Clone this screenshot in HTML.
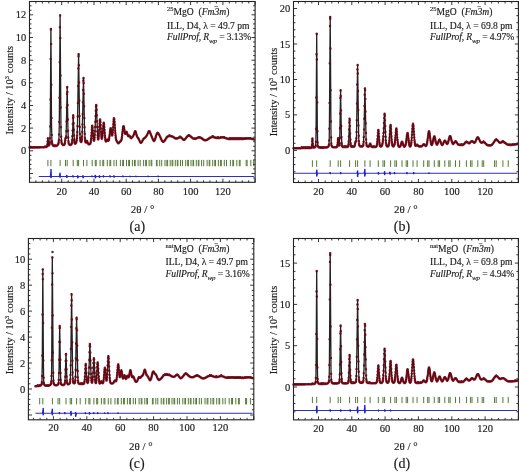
<!DOCTYPE html>
<html><head><meta charset="utf-8"><style>
html,body{margin:0;padding:0;background:#fff;}
svg{display:block;filter:blur(0.3px);}
text{font-family:"Liberation Serif",serif;fill:#1a1a1a;white-space:pre;stroke:#1a1a1a;stroke-width:0.15px;}
.t{font-size:10.5px;}
.a{font-size:9.6px;}
.cap{font-size:14px;}
.xl{font-size:11px;}
.sup{font-size:6.5px;}
.sub{font-size:7px;}
.a3{letter-spacing:-0.12px;}
.i{font-style:italic;}

</style></head><body>
<svg width="520" height="472" viewBox="0 0 520 472">
<rect width="520" height="472" fill="#fff"/>
<path d="M29.5 147.6L43.2 147.2L45.6 147L46.7 146.7L47.1 146.3L47.3 145.3L47.9 138L48.6 145.2L48.8 145.5L49.1 145.3L49.7 143.7L50 138.8L50.3 125.7L50.9 28.7L51.5 121L51.9 141.6L52.5 144.8L53.1 145.6L53.9 146L55.6 146L57.1 145.5L58 144.6L58.5 143.1L59 137.9L59.3 123.4L60.1 15L61 132.1L61.5 141.8L61.9 143.7L62.8 144.8L63.9 145L64.5 144.4L65.5 138.3L65.6 137.9L66 138.1L66.1 136.8L67.2 87L68 132.4L68.6 142.9L69.1 144.3L70.2 144.9L71.4 144.5L71.9 143.1L72.4 137.5L73.2 115.3L74.4 141.8L74.8 143.4L75.4 143.7L76 143L76.5 141.3L77.1 134.9L77.5 124L78.6 53.9L79.7 130.1L80.2 139.3L80.5 141.2L80.9 142L81.4 141.7L81.8 140.3L82.2 133.5L83.5 77.9L84.5 126.9L85 139L85.6 142.3L85.9 142.4L86.6 141.1L86.9 141L88 143.5L88.6 144.2L89.4 144.2L90 143.9L90.7 142.1L92.2 125.6L92.5 127.3L93.5 139.2L93.9 140.7L94.3 139.9L94.9 133L95.9 108.8L96.2 104.9L96.6 108.9L97.5 133L98 139.1L98.2 139.4L98.4 139.2L98.7 136.9L99.7 121.9L100.1 119.5L101.7 138.4L101.8 138.7L102 138.6L102.3 136.9L103.4 124.6L103.7 122.7L104.1 125L105.2 138.4L105.5 140.7L105.9 141.5L107.2 139.7L107.5 139.8L108.3 140.8L108.8 140.3L110.6 128.4L111 129.2L111.9 135L112.1 135.5L112.3 135.3L112.8 131.8L113.7 120L114 118.1L114.4 120.4L115.9 138.3L116.9 141.5L117.6 142.8L118.3 143.2L118.9 143L120.9 141L121.4 140.1L121.9 137L123 127.8L123.5 126.1L123.9 127.1L125.1 133.7L125.5 133.7L126.2 132.2L126.6 132L128.1 136.1L128.4 136.3L129.2 135.9L129.5 136L131 138.1L131.4 138L133.3 135.8L134.8 131.8L135.1 131.3L135.4 131.3L137.2 136.8L138.5 138.8L140.1 142.1L140.9 142.8L141.8 142.2L143.7 138.8L145.3 137.5L146.4 136.1L148.5 131.8L149.1 131.2L149.9 132.1L152.6 138.9L153.7 140.9L154.2 140.9L154.7 140.3L156.7 134.2L157.1 133.3L157.6 133.1L158.2 133.5L159 134.7L161.9 140.8L162.5 141.5L163.1 141.8L163.7 141.6L164.3 141.1L167.1 137.1L168.4 136.2L170.3 136.1L172 136.4L175.2 138.3L176.3 138.6L177.5 138.4L179.6 137.2L180.4 137.1L181.2 137.6L183 139.4L184 139.8L185.2 139.1L187.7 136L188.8 135.5L189.8 135.8L192.4 138L193.8 138.7L195.4 138.8L198.3 137.5L199.5 137.3L200.9 137.8L203.8 139.9L205.2 140.3L206.7 140L210.5 137.6L212.5 137L217.7 138.1L221.8 137.4L223.3 137.4L227.6 138.7L229.3 139L242 138.9L248.8 138.4L251.1 138.7L254 139.4" stroke="#222" stroke-width="1.3" fill="none" stroke-linejoin="round"/>
<path d="M29.5 147.6h0M29.7 147.6h0M29.9 147.6h0M30.1 147.5h0M30.3 147.5h0M30.5 147.5h0M30.7 147.5h0M30.9 147.5h0M31.1 147.5h0M31.3 147.5h0M31.5 147.5h0M31.7 147.5h0M31.9 147.5h0M32.1 147.5h0M32.3 147.5h0M32.5 147.5h0M32.7 147.5h0M32.9 147.5h0M33.1 147.5h0M33.3 147.5h0M33.5 147.5h0M33.7 147.5h0M33.9 147.5h0M34.1 147.5h0M34.3 147.5h0M34.5 147.5h0M34.7 147.5h0M34.9 147.5h0M35.1 147.5h0M35.3 147.5h0M35.5 147.4h0M35.7 147.4h0M35.9 147.4h0M36.1 147.4h0M36.4 147.4h0M36.6 147.4h0M36.8 147.4h0M37 147.4h0M37.2 147.4h0M37.4 147.4h0M37.6 147.4h0M37.8 147.4h0M38 147.4h0M38.2 147.4h0M38.4 147.4h0M38.6 147.4h0M38.8 147.4h0M39 147.4h0M39.2 147.4h0M39.4 147.4h0M39.6 147.4h0M39.8 147.4h0M40 147.3h0M40.2 147.3h0M40.4 147.3h0M40.6 147.3h0M40.8 147.3h0M41 147.3h0M41.2 147.3h0M41.4 147.3h0M41.6 147.3h0M41.8 147.3h0M42 147.3h0M42.2 147.3h0M42.4 147.3h0M42.6 147.3h0M42.8 147.3h0M43 147.2h0M43.2 147.2h0M43.4 147.2h0M43.6 147.2h0M43.8 147.2h0M44 147.2h0M44.2 147.2h0M44.4 147.2h0M44.6 147.1h0M44.8 147.1h0M45 147.1h0M45.2 147.1h0M45.4 147.1h0M45.6 147h0M45.8 147h0M46 147h0M46.2 146.9h0M46.4 146.8h0M46.6 146.8h0M46.8 146.7h0M47 146.4h0M47.2 145.9h0M47.4 144.4h0M47.6 141.5h0M47.8 138.5h0M48 138.5h0M48.2 141.3h0M48.4 144h0M48.6 145.2h0M48.8 145.5h0M49 145.4h0M49.2 145.1h0M49.4 144.6h0M49.7 143.9h0M49.9 142.4h0M50.1 138.3h0M50.3 126.5h0M50.5 99.5h0M50.7 58.9h0M50.9 29.6h0M51.1 44.1h0M51.3 84.7h0M51.5 118.1h0M51.7 135h0M51.9 141.2h0M52.1 143.3h0M52.3 144.2h0M52.5 144.8h0M52.7 145.2h0M52.9 145.4h0M53.1 145.6h0M53.3 145.8h0M53.5 145.9h0M53.7 146h0M53.9 146h0M54.1 146.1h0M54.3 146.1h0M54.5 146.1h0M54.7 146.1h0M54.9 146.1h0M55.1 146.1h0M55.3 146.1h0M55.5 146.1h0M55.7 146h0M55.9 146h0M56.1 145.9h0M56.3 145.9h0M56.5 145.8h0M56.7 145.7h0M56.9 145.6h0M57.1 145.5h0M57.3 145.4h0M57.5 145.2h0M57.7 145h0M57.9 144.7h0M58.1 144.3h0M58.3 143.9h0M58.5 143.2h0M58.7 142.1h0M58.9 139.9h0M59.1 134.5h0M59.3 122h0M59.5 97.8h0M59.7 62.3h0M59.9 27.2h0M60.1 15.6h0M60.3 38.1h0M60.5 75.5h0M60.7 107.6h0M60.9 127.3h0M61.1 136.7h0M61.3 140.6h0M61.5 142.3h0M61.7 143.2h0M61.9 143.7h0M62.1 144.1h0M62.3 144.4h0M62.5 144.6h0M62.7 144.8h0M62.9 144.9h0M63.2 145h0M63.4 145h0M63.6 145h0M63.8 145h0M64 145h0M64.2 144.9h0M64.4 144.7h0M64.6 144.3h0M64.8 143.5h0M65 142.2h0M65.2 140.5h0M65.4 138.8h0M65.6 137.9h0M65.8 138h0M66 138.1h0M66.2 136.4h0M66.4 131.2h0M66.6 121.4h0M66.8 107.7h0M67 93.9h0M67.2 87h0M67.4 91.9h0M67.6 105.1h0M67.8 119.4h0M68 130.7h0M68.2 137.6h0M68.4 141.3h0M68.6 143h0M68.8 143.7h0M69 144.2h0M69.2 144.4h0M69.4 144.6h0M69.6 144.7h0M69.8 144.8h0M70 144.8h0M70.2 144.9h0M70.4 144.9h0M70.6 144.9h0M70.8 144.8h0M71 144.7h0M71.2 144.6h0M71.4 144.5h0M71.6 144.1h0M71.8 143.5h0M72 142.3h0M72.2 140.1h0M72.4 136.2h0M72.6 130.6h0M72.8 124h0M73 118h0M73.2 115.3h0M73.4 117.5h0M73.6 123.2h0M73.8 129.8h0M74 135.5h0M74.2 139.4h0M74.4 141.7h0M74.6 142.9h0M74.8 143.5h0M75 143.7h0M75.2 143.7h0M75.4 143.7h0M75.6 143.6h0M75.8 143.3h0M76 143h0M76.2 142.4h0M76.4 141.5h0M76.7 140.2h0M76.9 138.3h0M77.1 135.7h0M77.3 131.9h0M77.5 125.9h0M77.7 116.5h0M77.9 103h0M78.1 86h0M78.3 68.6h0M78.5 56.3h0M78.7 54.8h0M78.9 65.2h0M79.1 82.4h0M79.3 100.6h0M79.5 116h0M79.7 127.1h0M79.9 134.1h0M80.1 138.1h0M80.3 140.1h0M80.5 141.2h0M80.7 141.7h0M80.9 141.9h0M81.1 142h0M81.3 141.9h0M81.5 141.5h0M81.7 140.8h0M81.9 139.3h0M82.1 136.5h0M82.3 131.7h0M82.5 124.4h0M82.7 114.3h0M82.9 102.2h0M83.1 90h0M83.3 80.7h0M83.5 78h0M83.7 83.1h0M83.9 93.7h0M84.1 106.2h0M84.3 117.9h0M84.5 127.2h0M84.7 133.8h0M84.9 137.9h0M85.1 140.3h0M85.3 141.6h0M85.5 142.2h0M85.7 142.4h0M85.9 142.4h0M86.1 142.1h0M86.3 141.7h0M86.5 141.3h0M86.7 141h0M86.9 141h0M87.1 141.3h0M87.3 141.8h0M87.5 142.4h0M87.7 143h0M87.9 143.5h0M88.1 143.8h0M88.3 144h0M88.5 144.2h0M88.7 144.2h0M88.9 144.3h0M89.1 144.3h0M89.3 144.2h0M89.5 144.2h0M89.7 144.1h0M90 144h0M90.2 143.7h0M90.4 143.4h0M90.6 142.8h0M90.8 141.9h0M91 140.4h0M91.2 138.4h0M91.4 135.8h0M91.6 132.8h0M91.8 129.7h0M92 127.2h0M92.2 125.7h0M92.4 126h0M92.6 127.7h0M92.8 130.4h0M93 133.4h0M93.2 136.1h0M93.4 138.2h0M93.6 139.7h0M93.8 140.6h0M94 140.7h0M94.2 140.3h0M94.4 139.2h0M94.6 137.5h0M94.8 134.8h0M95 131.3h0M95.2 126.9h0M95.4 121.7h0M95.6 116.1h0M95.8 110.8h0M96 106.7h0M96.2 104.9h0M96.4 106h0M96.6 109.8h0M96.8 115.3h0M97 121.3h0M97.2 126.9h0M97.4 131.6h0M97.6 135.2h0M97.8 137.6h0M98 139h0M98.2 139.4h0M98.4 139.1h0M98.6 137.9h0M98.8 136h0M99 133.4h0M99.2 130.3h0M99.4 126.8h0M99.6 123.5h0M99.8 120.8h0M100 119.6h0M100.2 120h0M100.4 122h0M100.6 125.1h0M100.8 128.6h0M101 131.9h0M101.2 134.7h0M101.4 136.9h0M101.6 138.2h0M101.8 138.7h0M102 138.5h0M102.2 137.6h0M102.4 136h0M102.6 133.8h0M102.8 131.2h0M103 128.5h0M103.2 125.9h0M103.5 123.8h0M103.7 122.7h0M103.9 123h0M104.1 124.5h0M104.3 126.9h0M104.5 129.8h0M104.7 132.7h0M104.9 135.4h0M105.1 137.6h0M105.3 139.3h0M105.5 140.5h0M105.7 141.2h0M105.9 141.5h0M106.1 141.5h0M106.3 141.3h0M106.5 140.9h0M106.7 140.5h0M106.9 140.1h0M107.1 139.8h0M107.3 139.7h0M107.5 139.7h0M107.7 140h0M107.9 140.3h0M108.1 140.6h0M108.3 140.8h0M108.5 140.8h0M108.7 140.5h0M108.9 139.9h0M109.1 139h0M109.3 137.8h0M109.5 136.3h0M109.7 134.5h0M109.9 132.7h0M110.1 131h0M110.3 129.5h0M110.5 128.6h0M110.7 128.3h0M110.9 128.8h0M111.1 129.9h0M111.3 131.4h0M111.5 132.9h0M111.7 134.3h0M111.9 135.2h0M112.1 135.5h0M112.3 135.2h0M112.5 134.1h0M112.7 132.4h0M112.9 130h0M113.1 127.2h0M113.3 124.3h0M113.5 121.6h0M113.7 119.4h0M113.9 118.3h0M114.1 118.4h0M114.3 119.7h0M114.5 121.9h0M114.7 124.8h0M114.9 127.8h0M115.1 130.7h0M115.3 133.3h0M115.5 135.5h0M115.7 137.3h0M115.9 138.6h0M116.1 139.5h0M116.3 140.2h0M116.5 140.8h0M116.7 141.2h0M117 141.7h0M117.2 142h0M117.4 142.4h0M117.6 142.7h0M117.8 142.9h0M118 143.1h0M118.2 143.2h0M118.4 143.3h0M118.6 143.2h0M118.8 143.1h0M119 143h0M119.2 142.8h0M119.4 142.5h0M119.6 142.3h0M119.8 142h0M120 141.8h0M120.2 141.6h0M120.4 141.4h0M120.6 141.3h0M120.8 141.1h0M121 140.9h0M121.2 140.6h0M121.4 140h0M121.6 139.2h0M121.8 138.1h0M122 136.7h0M122.2 135h0M122.4 133.1h0M122.6 131.2h0M122.8 129.4h0M123 127.9h0M123.2 126.8h0M123.4 126.2h0M123.6 126.2h0M123.8 126.7h0M124 127.7h0M124.2 129h0M124.4 130.3h0M124.6 131.6h0M124.8 132.7h0M125 133.4h0M125.2 133.8h0M125.4 133.8h0M125.6 133.5h0M125.8 133h0M126 132.6h0M126.2 132.2h0M126.4 131.9h0M126.6 132h0M126.8 132.3h0M127 132.8h0M127.2 133.5h0M127.4 134.2h0M127.6 134.9h0M127.8 135.5h0M128 136h0M128.2 136.2h0M128.4 136.3h0M128.6 136.2h0M128.8 136.1h0M129 136h0M129.2 135.9h0M129.4 135.9h0M129.6 136.1h0M129.8 136.4h0M130 136.8h0M130.2 137.2h0M130.5 137.5h0M130.7 137.9h0M130.9 138.1h0M131.1 138.2h0M131.3 138.1h0M131.5 138h0M131.7 137.7h0M131.9 137.5h0M132.1 137.2h0M132.3 136.9h0M132.5 136.7h0M132.7 136.5h0M132.9 136.4h0M133.1 136.2h0M133.3 135.9h0M133.5 135.6h0M133.7 135.1h0M133.9 134.6h0M134.1 133.9h0M134.3 133.3h0M134.5 132.6h0M134.7 132h0M134.9 131.5h0M135.1 131.3h0M135.3 131.3h0M135.5 131.5h0M135.7 132h0M135.9 132.6h0M136.1 133.3h0M136.3 134.1h0M136.5 134.9h0M136.7 135.6h0M136.9 136.2h0M137.1 136.7h0M137.3 137.1h0M137.5 137.4h0M137.7 137.7h0M137.9 137.9h0M138.1 138.1h0M138.3 138.4h0M138.5 138.8h0M138.7 139.2h0M138.9 139.6h0M139.1 140.1h0M139.3 140.5h0M139.5 141h0M139.7 141.4h0M139.9 141.8h0M140.1 142.2h0M140.3 142.4h0M140.5 142.6h0M140.7 142.8h0M140.9 142.8h0M141.1 142.8h0M141.3 142.7h0M141.5 142.5h0M141.7 142.3h0M141.9 142h0M142.1 141.6h0M142.3 141.2h0M142.5 140.8h0M142.7 140.4h0M142.9 140h0M143.1 139.6h0M143.3 139.3h0M143.5 139h0M143.8 138.7h0M144 138.5h0M144.2 138.4h0M144.4 138.2h0M144.6 138.1h0M144.8 137.9h0M145 137.8h0M145.2 137.6h0M145.4 137.4h0M145.6 137.2h0M145.8 137h0M146 136.7h0M146.2 136.5h0M146.4 136.2h0M146.6 135.9h0M146.8 135.6h0M147 135.3h0M147.2 134.9h0M147.4 134.5h0M147.6 134h0M147.8 133.5h0M148 133h0M148.2 132.5h0M148.4 132.1h0M148.6 131.7h0M148.8 131.4h0M149 131.3h0M149.2 131.2h0M149.4 131.3h0M149.6 131.5h0M149.8 131.9h0M150 132.3h0M150.2 132.8h0M150.4 133.4h0M150.6 133.9h0M150.8 134.5h0M151 135h0M151.2 135.6h0M151.4 136.1h0M151.6 136.6h0M151.8 137.1h0M152 137.6h0M152.2 138.1h0M152.4 138.6h0M152.6 139h0M152.8 139.5h0M153 139.9h0M153.2 140.3h0M153.4 140.6h0M153.6 140.8h0M153.8 140.9h0M154 141h0M154.2 140.9h0M154.4 140.7h0M154.6 140.4h0M154.8 140h0M155 139.5h0M155.2 138.9h0M155.4 138.2h0M155.6 137.5h0M155.8 136.8h0M156 136.1h0M156.2 135.4h0M156.4 134.8h0M156.6 134.2h0M156.8 133.8h0M157 133.4h0M157.3 133.2h0M157.5 133.1h0M157.7 133.1h0M157.9 133.1h0M158.1 133.3h0M158.3 133.5h0M158.5 133.8h0M158.7 134.1h0M158.9 134.4h0M159.1 134.8h0M159.3 135.1h0M159.5 135.5h0M159.7 135.9h0M159.9 136.4h0M160.1 136.8h0M160.3 137.2h0M160.5 137.7h0M160.7 138.2h0M160.9 138.7h0M161.1 139.1h0M161.3 139.6h0M161.5 140h0M161.7 140.4h0M161.9 140.7h0M162.1 141h0M162.3 141.3h0M162.5 141.5h0M162.7 141.6h0M162.9 141.7h0M163.1 141.8h0M163.3 141.8h0M163.5 141.7h0M163.7 141.6h0M163.9 141.5h0M164.1 141.3h0M164.3 141.2h0M164.5 140.9h0M164.7 140.7h0M164.9 140.4h0M165.1 140.1h0M165.3 139.8h0M165.5 139.5h0M165.7 139.2h0M165.9 138.8h0M166.1 138.5h0M166.3 138.2h0M166.5 137.9h0M166.7 137.6h0M166.9 137.3h0M167.1 137.1h0M167.3 136.8h0M167.5 136.7h0M167.7 136.5h0M167.9 136.4h0M168.1 136.3h0M168.3 136.2h0M168.5 136.2h0M168.7 136.1h0M168.9 136.1h0M169.1 136.1h0M169.3 136.1h0M169.5 136.1h0M169.7 136.1h0M169.9 136.1h0M170.1 136.1h0M170.3 136.1h0M170.6 136.2h0M170.8 136.2h0M171 136.2h0M171.2 136.2h0M171.4 136.3h0M171.6 136.3h0M171.8 136.3h0M172 136.4h0M172.2 136.5h0M172.4 136.5h0M172.6 136.6h0M172.8 136.7h0M173 136.8h0M173.2 137h0M173.4 137.1h0M173.6 137.2h0M173.8 137.4h0M174 137.5h0M174.2 137.6h0M174.4 137.8h0M174.6 137.9h0M174.8 138h0M175 138.2h0M175.2 138.3h0M175.4 138.4h0M175.6 138.4h0M175.8 138.5h0M176 138.6h0M176.2 138.6h0M176.4 138.6h0M176.6 138.6h0M176.8 138.6h0M177 138.6h0M177.2 138.5h0M177.4 138.4h0M177.6 138.3h0M177.8 138.2h0M178 138.1h0M178.2 138h0M178.4 137.9h0M178.6 137.7h0M178.8 137.6h0M179 137.5h0M179.2 137.4h0M179.4 137.3h0M179.6 137.2h0M179.8 137.1h0M180 137.1h0M180.2 137.1h0M180.4 137.1h0M180.6 137.2h0M180.8 137.3h0M181 137.4h0M181.2 137.6h0M181.4 137.8h0M181.6 138h0M181.8 138.2h0M182 138.4h0M182.2 138.7h0M182.4 138.9h0M182.6 139.1h0M182.8 139.3h0M183 139.4h0M183.2 139.6h0M183.4 139.7h0M183.6 139.7h0M183.8 139.8h0M184.1 139.8h0M184.3 139.7h0M184.5 139.6h0M184.7 139.5h0M184.9 139.4h0M185.1 139.2h0M185.3 139h0M185.5 138.8h0M185.7 138.5h0M185.9 138.3h0M186.1 138h0M186.3 137.7h0M186.5 137.5h0M186.7 137.2h0M186.9 136.9h0M187.1 136.7h0M187.3 136.4h0M187.5 136.2h0M187.7 136h0M187.9 135.8h0M188.1 135.7h0M188.3 135.6h0M188.5 135.5h0M188.7 135.5h0M188.9 135.5h0M189.1 135.5h0M189.3 135.6h0M189.5 135.7h0M189.7 135.8h0M189.9 135.9h0M190.1 136h0M190.3 136.2h0M190.5 136.4h0M190.7 136.5h0M190.9 136.7h0M191.1 136.9h0M191.3 137.1h0M191.5 137.3h0M191.7 137.4h0M191.9 137.6h0M192.1 137.8h0M192.3 137.9h0M192.5 138.1h0M192.7 138.2h0M192.9 138.3h0M193.1 138.4h0M193.3 138.5h0M193.5 138.6h0M193.7 138.7h0M193.9 138.8h0M194.1 138.8h0M194.3 138.8h0M194.5 138.8h0M194.7 138.8h0M194.9 138.8h0M195.1 138.8h0M195.3 138.8h0M195.5 138.7h0M195.7 138.7h0M195.9 138.6h0M196.1 138.5h0M196.3 138.4h0M196.5 138.3h0M196.7 138.2h0M196.9 138.1h0M197.1 138h0M197.3 137.9h0M197.6 137.8h0M197.8 137.7h0M198 137.6h0M198.2 137.5h0M198.4 137.4h0M198.6 137.4h0M198.8 137.3h0M199 137.3h0M199.2 137.3h0M199.4 137.3h0M199.6 137.3h0M199.8 137.3h0M200 137.4h0M200.2 137.5h0M200.4 137.5h0M200.6 137.6h0M200.8 137.7h0M201 137.9h0M201.2 138h0M201.4 138.1h0M201.6 138.3h0M201.8 138.4h0M202 138.6h0M202.2 138.7h0M202.4 138.9h0M202.6 139h0M202.8 139.2h0M203 139.3h0M203.2 139.5h0M203.4 139.6h0M203.6 139.7h0M203.8 139.8h0M204 139.9h0M204.2 140h0M204.4 140.1h0M204.6 140.2h0M204.8 140.2h0M205 140.3h0M205.2 140.3h0M205.4 140.3h0M205.6 140.3h0M205.8 140.2h0M206 140.2h0M206.2 140.1h0M206.4 140.1h0M206.6 140h0M206.8 139.9h0M207 139.8h0M207.2 139.7h0M207.4 139.6h0M207.6 139.5h0M207.8 139.3h0M208 139.2h0M208.2 139.1h0M208.4 138.9h0M208.6 138.8h0M208.8 138.6h0M209 138.5h0M209.2 138.4h0M209.4 138.2h0M209.6 138.1h0M209.8 138h0M210 137.8h0M210.2 137.7h0M210.4 137.6h0M210.6 137.5h0M210.9 137.4h0M211.1 137.3h0M211.3 137.3h0M211.5 137.2h0M211.7 137.1h0M211.9 137.1h0M212.1 137.1h0M212.3 137h0M212.5 137h0M212.7 137h0M212.9 137h0M213.1 137h0M213.3 137.1h0M213.5 137.1h0M213.7 137.1h0M213.9 137.2h0M214.1 137.2h0M214.3 137.3h0M214.5 137.4h0M214.7 137.4h0M214.9 137.5h0M215.1 137.6h0M215.3 137.6h0M215.5 137.7h0M215.7 137.7h0M215.9 137.8h0M216.1 137.9h0M216.3 137.9h0M216.5 138h0M216.7 138h0M216.9 138.1h0M217.1 138.1h0M217.3 138.1h0M217.5 138.1h0M217.7 138.1h0M217.9 138.1h0M218.1 138.1h0M218.3 138.1h0M218.5 138.1h0M218.7 138.1h0M218.9 138.1h0M219.1 138h0M219.3 138h0M219.5 137.9h0M219.7 137.9h0M219.9 137.8h0M220.1 137.8h0M220.3 137.7h0M220.5 137.7h0M220.7 137.6h0M220.9 137.6h0M221.1 137.6h0M221.3 137.5h0M221.5 137.5h0M221.7 137.4h0M221.9 137.4h0M222.1 137.4h0M222.3 137.4h0M222.5 137.4h0M222.7 137.4h0M222.9 137.4h0M223.1 137.4h0M223.3 137.4h0M223.5 137.5h0M223.7 137.5h0M223.9 137.5h0M224.1 137.6h0M224.4 137.6h0M224.6 137.7h0M224.8 137.8h0M225 137.8h0M225.2 137.9h0M225.4 138h0M225.6 138h0M225.8 138.1h0M226 138.2h0M226.2 138.3h0M226.4 138.3h0M226.6 138.4h0M226.8 138.5h0M227 138.6h0M227.2 138.6h0M227.4 138.7h0M227.6 138.7h0M227.8 138.8h0M228 138.8h0M228.2 138.9h0M228.4 138.9h0M228.6 138.9h0M228.8 139h0M229 139h0M229.2 139h0M229.4 139h0M229.6 139h0M229.8 139h0M230 139h0M230.2 139h0M230.4 139h0M230.6 139h0M230.8 139h0M231 139h0M231.2 139h0M231.4 139h0M231.6 139h0M231.8 139h0M232 138.9h0M232.2 138.9h0M232.4 138.9h0M232.6 138.9h0M232.8 138.9h0M233 138.9h0M233.2 138.9h0M233.4 138.9h0M233.6 138.9h0M233.8 138.9h0M234 138.9h0M234.2 138.9h0M234.4 138.9h0M234.6 138.9h0M234.8 138.9h0M235 138.9h0M235.2 138.9h0M235.4 138.9h0M235.6 138.9h0M235.8 138.9h0M236 138.9h0M236.2 138.9h0M236.4 138.9h0M236.6 138.9h0M236.8 138.9h0M237 138.9h0M237.2 138.9h0M237.4 138.9h0M237.6 138.9h0M237.9 138.9h0M238.1 138.9h0M238.3 138.9h0M238.5 139h0M238.7 139h0M238.9 139h0M239.1 139h0M239.3 139h0M239.5 139h0M239.7 139h0M239.9 139h0M240.1 139h0M240.3 139h0M240.5 138.9h0M240.7 138.9h0M240.9 138.9h0M241.1 138.9h0M241.3 138.9h0M241.5 138.9h0M241.7 138.9h0M241.9 138.9h0M242.1 138.9h0M242.3 138.9h0M242.5 138.9h0M242.7 138.9h0M242.9 138.9h0M243.1 138.9h0M243.3 138.9h0M243.5 138.9h0M243.7 138.8h0M243.9 138.8h0M244.1 138.8h0M244.3 138.8h0M244.5 138.8h0M244.7 138.8h0M244.9 138.7h0M245.1 138.7h0M245.3 138.7h0M245.5 138.7h0M245.7 138.7h0M245.9 138.6h0M246.1 138.6h0M246.3 138.6h0M246.5 138.6h0M246.7 138.5h0M246.9 138.5h0M247.1 138.5h0M247.3 138.5h0M247.5 138.5h0M247.7 138.5h0M247.9 138.5h0M248.1 138.5h0M248.3 138.4h0M248.5 138.4h0M248.7 138.4h0M248.9 138.4h0M249.1 138.5h0M249.3 138.5h0M249.5 138.5h0M249.7 138.5h0M249.9 138.5h0M250.1 138.5h0M250.3 138.6h0M250.5 138.6h0M250.7 138.6h0M250.9 138.6h0M251.2 138.7h0M251.4 138.7h0M251.6 138.8h0M251.8 138.8h0M252 138.9h0M252.2 138.9h0M252.4 139h0M252.6 139h0M252.8 139.1h0M253 139.1h0M253.2 139.2h0M253.4 139.2h0M253.6 139.3h0M253.8 139.3h0M254 139.4h0M50.9 29h0M60.1 15.4h0M67.2 87.4h0M73.2 115.7h0M78.6 54.3h0M83.5 78.3h0M92.2 126h0M96.2 105.3h0M100.1 119.9h0M103.7 123.1h0M110.7 128.7h0M114 118.5h0" stroke="#6e000f" stroke-width="2.5" stroke-linecap="round" fill="none" opacity="0.88"/>
<path d="M47.9 159.9V166.2M50.9 159.9V166.2M60.1 159.9V166.2M65.5 159.9V166.2M67.2 159.9V166.2M73.2 159.9V166.2M77.3 159.9V166.2M78.6 159.9V166.2M83.5 159.9V166.2M86.9 159.9V166.2M92.2 159.9V166.2M95.3 159.9V166.2M96.2 159.9V166.2M100.1 159.9V166.2M102.8 159.9V166.2M103.7 159.9V166.2M107.3 159.9V166.2M109.9 159.9V166.2M110.7 159.9V166.2M114 159.9V166.2M116.4 159.9V166.2M120.4 159.9V166.2M122.7 159.9V166.2M123.5 159.9V166.2M126.5 159.9V166.2M128.7 159.9V166.2M129.5 159.9V166.2M132.4 159.9V166.2M134.5 159.9V166.2M135.2 159.9V166.2M138.1 159.9V166.2M140.2 159.9V166.2M143.6 159.9V166.2M145.7 159.9V166.2M146.4 159.9V166.2M149.1 159.9V166.2M151.1 159.9V166.2M151.8 159.9V166.2M156.4 159.9V166.2M157.1 159.9V166.2M159.7 159.9V166.2M161.7 159.9V166.2M165 159.9V166.2M166.9 159.9V166.2M167.6 159.9V166.2M170.2 159.9V166.2M172.1 159.9V166.2M172.8 159.9V166.2M175.3 159.9V166.2M177.3 159.9V166.2M177.9 159.9V166.2M180.5 159.9V166.2M182.5 159.9V166.2M185.7 159.9V166.2M187.7 159.9V166.2M188.4 159.9V166.2M191 159.9V166.2M193 159.9V166.2M193.6 159.9V166.2M196.3 159.9V166.2M198.3 159.9V166.2M198.9 159.9V166.2M201.6 159.9V166.2M203.7 159.9V166.2M207.1 159.9V166.2M209.2 159.9V166.2M209.8 159.9V166.2M212.7 159.9V166.2M214.8 159.9V166.2M215.5 159.9V166.2M218.4 159.9V166.2M220.6 159.9V166.2M221.3 159.9V166.2M224.3 159.9V166.2M226.5 159.9V166.2M230.4 159.9V166.2M232.8 159.9V166.2M233.6 159.9V166.2M236.8 159.9V166.2M239.3 159.9V166.2M240.1 159.9V166.2M246.2 159.9V166.2M247.1 159.9V166.2M250.8 159.9V166.2M253.7 159.9V166.2" stroke="#557a35" stroke-width="1" fill="none"/>
<path d="M38.7 176.4L50.2 176.4L50.8 172.7L51.2 177.2L51.8 176.4L59.2 176.4L59.8 174.5L60.2 177.1L60.8 176.4L66 176.4L66.6 175.7L67 177.2L67.6 176.4L72.2 176.4L72.8 175.9L73.2 176.9L73.8 176.4L77 176.4L77.6 175.9L78 177.4L78.6 176.4L82.3 176.4L82.9 175.9L83.3 177.4L83.9 176.4L91.2 176.4L91.8 176L92.2 176.8L92.8 176.4L94.6 176.4L95.2 175.7L95.6 177.4L96.2 176.4L98.7 176.4L99.3 175.9L99.7 177.2L100.3 176.4L102.7 176.4L103.3 175.9L103.7 176.9L104.3 176.4L109.2 176.4L109.8 175.9L110.2 176.9L110.8 176.4L113.2 176.4L113.8 175.9L114.2 177L114.8 176.4L122.2 176.4L122.8 176L123.2 176.8L123.8 176.4L129.2 176.4L129.8 176.1L130.2 176.7L130.8 176.4L135.2 176.4L135.8 176.1L136.2 176.7L136.8 176.4L147.2 176.4L147.8 176.2L148.2 176.7L148.8 176.4L157.2 176.4L157.8 176.2L158.2 176.7L158.8 176.4L253.9 176.4" stroke="#3030b4" stroke-width="1.05" fill="none" stroke-linejoin="round"/>
<path d="M51 169.6V177.4M60 173.2V177.1M66.8 175.5V177.3M73 176V176.8M77.8 176V177.8M83.1 176V177.8M92 176.2V176.6M95.4 175.5V177.8M99.5 176V177.3M103.5 176V176.8M110 176V176.8M114 176V177M123 176.2V176.6M130 176.4V176.4M136 176.4V176.4M148 176.5V176.3M158 176.5V176.3" stroke="#2020d8" stroke-width="1.5" stroke-linecap="round" fill="none"/>
<rect x="29.5" y="1.5" width="225.6" height="180.8" fill="none" stroke="#222" stroke-width="1.1"/>
<path d="M29.5 182.3v-3.6M29.5 1.5v3.6M35.9 182.3v-2M35.9 1.5v2M42.4 182.3v-2M42.4 1.5v2M48.8 182.3v-2M48.8 1.5v2M55.3 182.3v-2M55.3 1.5v2M61.7 182.3v-3.6M61.7 1.5v3.6M68.2 182.3v-2M68.2 1.5v2M74.6 182.3v-2M74.6 1.5v2M81.1 182.3v-2M81.1 1.5v2M87.5 182.3v-2M87.5 1.5v2M94 182.3v-3.6M94 1.5v3.6M100.4 182.3v-2M100.4 1.5v2M106.8 182.3v-2M106.8 1.5v2M113.3 182.3v-2M113.3 1.5v2M119.7 182.3v-2M119.7 1.5v2M126.2 182.3v-3.6M126.2 1.5v3.6M132.6 182.3v-2M132.6 1.5v2M139.1 182.3v-2M139.1 1.5v2M145.5 182.3v-2M145.5 1.5v2M152 182.3v-2M152 1.5v2M158.4 182.3v-3.6M158.4 1.5v3.6M164.9 182.3v-2M164.9 1.5v2M171.3 182.3v-2M171.3 1.5v2M177.8 182.3v-2M177.8 1.5v2M184.2 182.3v-2M184.2 1.5v2M190.6 182.3v-3.6M190.6 1.5v3.6M197.1 182.3v-2M197.1 1.5v2M203.5 182.3v-2M203.5 1.5v2M210 182.3v-2M210 1.5v2M216.4 182.3v-2M216.4 1.5v2M222.9 182.3v-3.6M222.9 1.5v3.6M229.3 182.3v-2M229.3 1.5v2M235.8 182.3v-2M235.8 1.5v2M242.2 182.3v-2M242.2 1.5v2M248.7 182.3v-2M248.7 1.5v2M255.1 182.3v-3.6M255.1 1.5v3.6M29.5 178h2M255.1 178h-2M29.5 173.5h3.6M255.1 173.5h-3.6M29.5 168.9h2M255.1 168.9h-2M29.5 164.4h2M255.1 164.4h-2M29.5 159.9h2M255.1 159.9h-2M29.5 155.3h2M255.1 155.3h-2M29.5 150.8h3.6M255.1 150.8h-3.6M29.5 146.3h2M255.1 146.3h-2M29.5 141.7h2M255.1 141.7h-2M29.5 137.2h2M255.1 137.2h-2M29.5 132.7h2M255.1 132.7h-2M29.5 128.1h3.6M255.1 128.1h-3.6M29.5 123.6h2M255.1 123.6h-2M29.5 119.1h2M255.1 119.1h-2M29.5 114.5h2M255.1 114.5h-2M29.5 110h2M255.1 110h-2M29.5 105.5h3.6M255.1 105.5h-3.6M29.5 100.9h2M255.1 100.9h-2M29.5 96.4h2M255.1 96.4h-2M29.5 91.9h2M255.1 91.9h-2M29.5 87.4h2M255.1 87.4h-2M29.5 82.8h3.6M255.1 82.8h-3.6M29.5 78.3h2M255.1 78.3h-2M29.5 73.8h2M255.1 73.8h-2M29.5 69.2h2M255.1 69.2h-2M29.5 64.7h2M255.1 64.7h-2M29.5 60.2h3.6M255.1 60.2h-3.6M29.5 55.6h2M255.1 55.6h-2M29.5 51.1h2M255.1 51.1h-2M29.5 46.6h2M255.1 46.6h-2M29.5 42h2M255.1 42h-2M29.5 37.5h3.6M255.1 37.5h-3.6M29.5 33h2M255.1 33h-2M29.5 28.4h2M255.1 28.4h-2M29.5 23.9h2M255.1 23.9h-2M29.5 19.4h2M255.1 19.4h-2M29.5 14.8h3.6M255.1 14.8h-3.6M29.5 10.3h2M255.1 10.3h-2M29.5 5.8h2M255.1 5.8h-2" stroke="#222" stroke-width="0.9" fill="none"/>
<text x="61.7" y="194.6" text-anchor="middle" class="t">20</text>
<text x="94" y="194.6" text-anchor="middle" class="t">40</text>
<text x="126.2" y="194.6" text-anchor="middle" class="t">60</text>
<text x="158.4" y="194.6" text-anchor="middle" class="t">80</text>
<text x="190.6" y="194.6" text-anchor="middle" class="t">100</text>
<text x="222.9" y="194.6" text-anchor="middle" class="t">120</text>
<text x="26.3" y="154.3" text-anchor="end" class="t">0</text>
<text x="26.3" y="131.6" text-anchor="end" class="t">2</text>
<text x="26.3" y="109" text-anchor="end" class="t">4</text>
<text x="26.3" y="86.3" text-anchor="end" class="t">6</text>
<text x="26.3" y="63.7" text-anchor="end" class="t">8</text>
<text x="26.3" y="41" text-anchor="end" class="t">10</text>
<text x="26.3" y="18.3" text-anchor="end" class="t">12</text>
<text transform="translate(12.7 90.2) rotate(-90)" text-anchor="middle" class="t">Intensity / 10<tspan class="sup" dy="-3.5">3</tspan><tspan dy="3.5"> counts</tspan></text>
<text x="142.6" y="213" text-anchor="middle" class="xl">2θ / °</text>
<text x="137.3" y="230.6" text-anchor="middle" class="cap">(a)</text>
<text x="167" y="14.8" class="a"><tspan class="sup" dy="-3.5">25</tspan><tspan dy="3.5">MgO  (</tspan><tspan class="i">Fm</tspan><tspan class="i ol" id="ola">3</tspan><tspan class="i">m</tspan>)</text>
<path d="M214.4 6.6H217.9" stroke="#555" stroke-width="0.8"/>
<text x="167" y="28.5" class="a">ILL, D4, λ = 49.7 pm</text>
<text x="167" y="39.8" class="a a3"><tspan class="i">FullProf</tspan>, <tspan class="i">R</tspan><tspan class="i sub" dy="3.2">wp</tspan><tspan dy="-3.2"> = 3.13%</tspan></text>
<path d="M293.5 148.3L308.4 148L311.4 147.8L311.8 146.3L312.4 138.5L313.2 147.3L313.6 147.6L314.7 147.3L315.3 146.8L315.6 146L315.9 141.2L316.1 127.8L316.7 33.6L317.3 127.1L317.7 145.3L318 146.5L318.5 147.1L319.3 147.5L320.8 147.7L324.6 147.6L327 147.3L328.1 146.8L328.8 145.7L329.2 141L329.4 126.6L330.2 16.6L331 134.4L331.3 144.5L331.6 146L332.3 146.8L333.2 147.1L334.7 147.3L336.4 147.2L337 146.9L337.4 145.2L338.2 138L339 144.9L339.2 145.6L339.4 145L339.8 135.4L340.6 90.2L341.4 136L342 145.9L342.6 146.8L344.5 147.1L347.4 146.9L347.9 146.6L348.2 146.1L348.7 140.9L349.6 118.5L350.4 140.5L350.8 145.6L351.3 146.6L352.5 146.8L354.1 146.6L354.7 145.6L355.5 141.8L356.1 140.9L356.5 136.1L357.6 64.7L358.7 137.4L359.1 144.6L359.5 145.7L360 146.3L361.5 146.5L362.8 146.1L363.3 145.2L363.5 143.1L364 132.9L364.9 88.1L366.1 139.8L366.6 145.2L366.9 146.1L367.6 146.5L368.4 146.7L368.9 146.4L370.1 143.6L371.2 146.2L371.8 146.8L375.3 146.9L376.1 146.7L376.5 146.4L377.2 143.3L378.3 129.9L379.8 145.2L380.1 146.1L380.5 146.5L381.3 146.4L381.8 145.8L382.6 143L383.2 138.5L384.6 113.6L385.9 141.9L386.4 145.4L386.8 146.1L387.3 146.4L388 146.4L388.4 146.1L389 144.1L390.2 127.1L390.6 124.9L390.9 127.5L391.9 142.5L392.3 145L392.8 146.2L393.3 146.4L393.9 146L394.7 143.9L396 130L396.4 128.4L396.7 130.6L397.8 143.1L398.1 145.2L398.6 146.4L399.5 146.8L400.3 146.3L401.6 142.2L402 141.7L402.4 142.2L403.7 146.3L404.4 146.7L405 146.2L405.9 143.4L407.1 134.5L407.5 133.1L408 134.6L409.2 144.7L409.7 146.2L410.1 146.5L410.4 146.4L410.9 145.2L411.3 142.6L412.6 126.5L413 123.8L413.4 125.8L414.5 140.3L415.1 144.9L415.6 145.8L417.2 145L418.7 146.2L419.4 146.5L421.6 146.3L423.7 144.4L424.2 144.6L425.5 145.9L426 145.9L426.3 145.6L427.1 143L428.5 133.1L429 131.3L429.5 133L430.9 143L431.3 144.5L431.7 145L432 144.8L432.4 143.8L433.7 137.7L434.2 136.5L434.8 137.3L436 142.9L436.6 144.6L437 144.7L437.4 144.3L438.9 140.6L439.5 139.9L440.1 140.6L441.5 144.3L442.2 145L442.9 144.4L444.2 141.4L444.8 140.8L445.4 141.2L446.7 143.7L447.1 143.9L447.4 143.7L448.1 142.2L449.5 137.1L450.1 136.2L450.7 137.1L452 142.2L452.8 143.8L453.1 144L453.5 143.8L454.9 141.8L455.6 141.4L456.2 141.9L457.8 144.2L459.1 144.8L461.8 145.1L463 144.8L464 144.2L465.7 142.2L466.4 141.8L467 141.9L468.4 143.1L469.1 143.3L469.8 142.9L471.3 141.4L472 141.2L473.9 142.6L474.6 142.7L475.4 141.7L477.1 138.1L477.8 137.5L478.5 138.1L480.1 141.5L480.9 142.5L481.6 142.7L483.1 142.1L483.9 142.1L486.8 144.8L488.5 145.4L490.4 145.4L491.9 144.8L493 143.7L495.1 140.4L496.2 139.7L497.1 140.1L498.8 142L499.6 142.6L500.5 142.6L502.4 141.9L503.4 141.9L504.3 142.4L506.7 144.1L508.3 144.7L512 144.8L517.4 144.1" stroke="#222" stroke-width="1.3" fill="none" stroke-linejoin="round"/>
<path d="M293.5 148.3h0M293.7 148.3h0M293.9 148.3h0M294.1 148.3h0M294.3 148.3h0M294.5 148.2h0M294.7 148.2h0M295 148.2h0M295.2 148.2h0M295.4 148.2h0M295.6 148.2h0M295.8 148.2h0M296 148.2h0M296.2 148.2h0M296.4 148.2h0M296.6 148.2h0M296.8 148.2h0M297 148.2h0M297.2 148.2h0M297.4 148.2h0M297.6 148.2h0M297.9 148.2h0M298.1 148.2h0M298.3 148.2h0M298.5 148.2h0M298.7 148.2h0M298.9 148.2h0M299.1 148.2h0M299.3 148.2h0M299.5 148.2h0M299.7 148.2h0M299.9 148.2h0M300.1 148.2h0M300.3 148.2h0M300.6 148.2h0M300.8 148.2h0M301 148.1h0M301.2 148.1h0M301.4 148.1h0M301.6 148.1h0M301.8 148.1h0M302 148.1h0M302.2 148.1h0M302.4 148.1h0M302.6 148.1h0M302.8 148.1h0M303 148.1h0M303.3 148.1h0M303.5 148.1h0M303.7 148.1h0M303.9 148.1h0M304.1 148.1h0M304.3 148.1h0M304.5 148.1h0M304.7 148.1h0M304.9 148.1h0M305.1 148.1h0M305.3 148.1h0M305.5 148.1h0M305.7 148.1h0M305.9 148.1h0M306.2 148.1h0M306.4 148.1h0M306.6 148h0M306.8 148h0M307 148h0M307.2 148h0M307.4 148h0M307.6 148h0M307.8 148h0M308 148h0M308.2 148h0M308.4 148h0M308.6 148h0M308.9 148h0M309.1 148h0M309.3 148h0M309.5 148h0M309.7 148h0M309.9 147.9h0M310.1 147.9h0M310.3 147.9h0M310.5 147.9h0M310.7 147.9h0M310.9 147.9h0M311.1 147.8h0M311.3 147.8h0M311.6 147.6h0M311.8 146.9h0M312 144.9h0M312.2 141.3h0M312.4 138.6h0M312.6 140h0M312.8 143.7h0M313 146.3h0M313.2 147.3h0M313.4 147.6h0M313.6 147.6h0M313.8 147.6h0M314 147.6h0M314.2 147.5h0M314.5 147.5h0M314.7 147.4h0M314.9 147.3h0M315.1 147.1h0M315.3 146.9h0M315.5 146.5h0M315.7 145.5h0M315.9 141.8h0M316.1 128.7h0M316.3 97.4h0M316.5 54.3h0M316.7 33.7h0M316.9 59.5h0M317.2 102.4h0M317.4 131.2h0M317.6 142.5h0M317.8 145.7h0M318 146.5h0M318.2 146.9h0M318.4 147.1h0M318.6 147.2h0M318.8 147.3h0M319 147.4h0M319.2 147.5h0M319.4 147.5h0M319.6 147.6h0M319.9 147.6h0M320.1 147.6h0M320.3 147.6h0M320.5 147.7h0M320.7 147.7h0M320.9 147.7h0M321.1 147.7h0M321.3 147.7h0M321.5 147.7h0M321.7 147.7h0M321.9 147.7h0M322.1 147.7h0M322.3 147.7h0M322.6 147.7h0M322.8 147.7h0M323 147.7h0M323.2 147.7h0M323.4 147.7h0M323.6 147.7h0M323.8 147.6h0M324 147.6h0M324.2 147.6h0M324.4 147.6h0M324.6 147.6h0M324.8 147.6h0M325 147.6h0M325.2 147.6h0M325.5 147.5h0M325.7 147.5h0M325.9 147.5h0M326.1 147.5h0M326.3 147.5h0M326.5 147.4h0M326.7 147.4h0M326.9 147.3h0M327.1 147.3h0M327.3 147.2h0M327.5 147.1h0M327.7 147h0M327.9 146.9h0M328.2 146.8h0M328.4 146.5h0M328.6 146.2h0M328.8 145.7h0M329 144.5h0M329.2 140.4h0M329.4 128.8h0M329.6 103.1h0M329.8 63.2h0M330 26h0M330.2 18.8h0M330.4 48.5h0M330.6 90.2h0M330.9 121.6h0M331.1 137.5h0M331.3 143.5h0M331.5 145.4h0M331.7 146h0M331.9 146.4h0M332.1 146.6h0M332.3 146.8h0M332.5 146.9h0M332.7 147h0M332.9 147h0M333.1 147.1h0M333.3 147.2h0M333.5 147.2h0M333.8 147.2h0M334 147.2h0M334.2 147.2h0M334.4 147.3h0M334.6 147.3h0M334.8 147.3h0M335 147.3h0M335.2 147.3h0M335.4 147.3h0M335.6 147.3h0M335.8 147.3h0M336 147.2h0M336.2 147.2h0M336.5 147.2h0M336.7 147.1h0M336.9 147h0M337.1 146.8h0M337.3 146.2h0M337.5 144.8h0M337.7 142.6h0M337.9 139.9h0M338.1 138.2h0M338.3 138.5h0M338.5 140.6h0M338.7 143.1h0M338.9 144.9h0M339.1 145.6h0M339.4 145.3h0M339.6 143.4h0M339.8 138.3h0M340 128.3h0M340.2 113.4h0M340.4 98h0M340.6 90.3h0M340.8 95.9h0M341 110.6h0M341.2 126.1h0M341.4 137h0M341.6 142.9h0M341.8 145.3h0M342.1 146.2h0M342.3 146.5h0M342.5 146.7h0M342.7 146.8h0M342.9 146.9h0M343.1 146.9h0M343.3 147h0M343.5 147h0M343.7 147h0M343.9 147.1h0M344.1 147.1h0M344.3 147.1h0M344.5 147.1h0M344.8 147.1h0M345 147.1h0M345.2 147.1h0M345.4 147.1h0M345.6 147.1h0M345.8 147.1h0M346 147.1h0M346.2 147.1h0M346.4 147.1h0M346.6 147h0M346.8 147h0M347 147h0M347.2 146.9h0M347.4 146.9h0M347.7 146.8h0M347.9 146.7h0M348.1 146.5h0M348.3 145.9h0M348.5 144.5h0M348.7 141.5h0M348.9 136.4h0M349.1 129.5h0M349.3 122.6h0M349.5 118.7h0M349.7 120.2h0M349.9 126.1h0M350.1 133.4h0M350.4 139.4h0M350.6 143.3h0M350.8 145.3h0M351 146.2h0M351.2 146.5h0M351.4 146.6h0M351.6 146.7h0M351.8 146.7h0M352 146.8h0M352.2 146.8h0M352.4 146.8h0M352.6 146.8h0M352.8 146.8h0M353.1 146.8h0M353.3 146.8h0M353.5 146.7h0M353.7 146.7h0M353.9 146.7h0M354.1 146.6h0M354.3 146.4h0M354.5 146.2h0M354.7 145.7h0M354.9 144.9h0M355.1 143.8h0M355.3 142.6h0M355.5 141.7h0M355.8 141.4h0M356 141.4h0M356.2 140.8h0M356.4 138.3h0M356.6 131.9h0M356.8 120.3h0M357 103.5h0M357.2 84.5h0M357.4 69.4h0M357.6 64.9h0M357.8 73.6h0M358 90.9h0M358.2 109.9h0M358.4 125.4h0M358.7 135.7h0M358.9 141.3h0M359.1 144.1h0M359.3 145.2h0M359.5 145.8h0M359.7 146h0M359.9 146.2h0M360.1 146.3h0M360.3 146.4h0M360.5 146.4h0M360.7 146.5h0M360.9 146.5h0M361.1 146.5h0M361.4 146.5h0M361.6 146.5h0M361.8 146.5h0M362 146.5h0M362.2 146.4h0M362.4 146.4h0M362.6 146.3h0M362.8 146.2h0M363 145.9h0M363.2 145.4h0M363.4 144.2h0M363.6 141.8h0M363.8 137.1h0M364.1 129.5h0M364.3 118.7h0M364.5 106.1h0M364.7 94.7h0M364.9 88.5h0M365.1 90.2h0M365.3 99.1h0M365.5 111.4h0M365.7 123.5h0M365.9 133.1h0M366.1 139.4h0M366.3 143h0M366.5 144.9h0M366.7 145.7h0M367 146.1h0M367.2 146.3h0M367.4 146.4h0M367.6 146.5h0M367.8 146.6h0M368 146.6h0M368.2 146.7h0M368.4 146.7h0M368.6 146.6h0M368.8 146.5h0M369 146.2h0M369.2 145.8h0M369.4 145.2h0M369.7 144.6h0M369.9 144h0M370.1 143.7h0M370.3 143.7h0M370.5 144.2h0M370.7 144.8h0M370.9 145.5h0M371.1 146h0M371.3 146.4h0M371.5 146.7h0M371.7 146.8h0M371.9 146.9h0M372.1 146.9h0M372.4 146.9h0M372.6 146.9h0M372.8 147h0M373 147h0M373.2 147h0M373.4 147h0M373.6 147h0M373.8 147h0M374 146.9h0M374.2 146.9h0M374.4 146.9h0M374.6 146.9h0M374.8 146.9h0M375 146.9h0M375.3 146.9h0M375.5 146.9h0M375.7 146.8h0M375.9 146.8h0M376.1 146.7h0M376.3 146.6h0M376.5 146.4h0M376.7 145.9h0M376.9 145.1h0M377.1 143.7h0M377.3 141.6h0M377.5 138.9h0M377.7 135.7h0M378 132.7h0M378.2 130.5h0M378.4 129.9h0M378.6 131.1h0M378.8 133.6h0M379 136.8h0M379.2 139.9h0M379.4 142.4h0M379.6 144.2h0M379.8 145.3h0M380 146h0M380.2 146.3h0M380.4 146.5h0M380.6 146.5h0M380.9 146.5h0M381.1 146.5h0M381.3 146.4h0M381.5 146.3h0M381.7 146.1h0M381.9 145.7h0M382.1 145.2h0M382.3 144.5h0M382.5 143.6h0M382.7 142.5h0M382.9 141.1h0M383.1 139.2h0M383.3 136.6h0M383.6 132.9h0M383.8 128.2h0M384 122.9h0M384.2 117.9h0M384.4 114.5h0M384.6 113.7h0M384.8 115.8h0M385 120.3h0M385.2 126h0M385.4 131.7h0M385.6 136.7h0M385.8 140.4h0M386 143h0M386.3 144.6h0M386.5 145.5h0M386.7 146h0M386.9 146.2h0M387.1 146.3h0M387.3 146.4h0M387.5 146.4h0M387.7 146.4h0M387.9 146.4h0M388.1 146.4h0M388.3 146.2h0M388.5 145.9h0M388.7 145.4h0M388.9 144.4h0M389.2 142.9h0M389.4 140.7h0M389.6 137.8h0M389.8 134.3h0M390 130.7h0M390.2 127.5h0M390.4 125.4h0M390.6 125h0M390.8 126.4h0M391 129.2h0M391.2 132.7h0M391.4 136.3h0M391.6 139.5h0M391.9 142h0M392.1 143.8h0M392.3 145h0M392.5 145.7h0M392.7 146.1h0M392.9 146.3h0M393.1 146.4h0M393.3 146.4h0M393.5 146.3h0M393.7 146.2h0M393.9 145.9h0M394.1 145.6h0M394.3 145.1h0M394.6 144.4h0M394.8 143.4h0M395 142h0M395.2 140.1h0M395.4 137.8h0M395.6 135.2h0M395.8 132.5h0M396 130.2h0M396.2 128.7h0M396.4 128.5h0M396.6 129.6h0M396.8 131.8h0M397 134.5h0M397.2 137.4h0M397.5 140h0M397.7 142.2h0M397.9 143.9h0M398.1 145h0M398.3 145.8h0M398.5 146.2h0M398.7 146.5h0M398.9 146.6h0M399.1 146.7h0M399.3 146.8h0M399.5 146.8h0M399.7 146.7h0M399.9 146.7h0M400.2 146.5h0M400.4 146.2h0M400.6 145.8h0M400.8 145.3h0M401 144.6h0M401.2 143.8h0M401.4 143h0M401.6 142.3h0M401.8 141.9h0M402 141.7h0M402.2 141.9h0M402.4 142.3h0M402.6 143h0M402.9 143.8h0M403.1 144.6h0M403.3 145.3h0M403.5 145.8h0M403.7 146.2h0M403.9 146.5h0M404.1 146.7h0M404.3 146.7h0M404.5 146.7h0M404.7 146.5h0M404.9 146.3h0M405.1 146h0M405.3 145.5h0M405.6 144.9h0M405.8 144.1h0M406 143.1h0M406.2 141.8h0M406.4 140.3h0M406.6 138.5h0M406.8 136.8h0M407 135.2h0M407.2 133.9h0M407.4 133.2h0M407.6 133.1h0M407.8 133.8h0M408 135.1h0M408.2 136.9h0M408.5 138.8h0M408.7 140.8h0M408.9 142.5h0M409.1 143.9h0M409.3 144.9h0M409.5 145.7h0M409.7 146.2h0M409.9 146.4h0M410.1 146.5h0M410.3 146.5h0M410.5 146.2h0M410.7 145.8h0M410.9 145.1h0M411.2 144h0M411.4 142.5h0M411.6 140.4h0M411.8 137.8h0M412 134.8h0M412.2 131.7h0M412.4 128.7h0M412.6 126.1h0M412.8 124.4h0M413 123.8h0M413.2 124.4h0M413.4 126h0M413.6 128.5h0M413.9 131.5h0M414.1 134.6h0M414.3 137.6h0M414.5 140.2h0M414.7 142.2h0M414.9 143.8h0M415.1 144.8h0M415.3 145.4h0M415.5 145.7h0M415.7 145.8h0M415.9 145.8h0M416.1 145.6h0M416.3 145.4h0M416.5 145.3h0M416.8 145.1h0M417 145h0M417.2 145h0M417.4 145.1h0M417.6 145.3h0M417.8 145.4h0M418 145.6h0M418.2 145.9h0M418.4 146.1h0M418.6 146.2h0M418.8 146.4h0M419 146.4h0M419.2 146.5h0M419.5 146.6h0M419.7 146.6h0M419.9 146.6h0M420.1 146.6h0M420.3 146.6h0M420.5 146.6h0M420.7 146.6h0M420.9 146.5h0M421.1 146.5h0M421.3 146.5h0M421.5 146.4h0M421.7 146.3h0M421.9 146.1h0M422.1 145.9h0M422.4 145.7h0M422.6 145.4h0M422.8 145.2h0M423 144.9h0M423.2 144.7h0M423.4 144.5h0M423.6 144.4h0M423.8 144.4h0M424 144.5h0M424.2 144.6h0M424.4 144.8h0M424.6 145.1h0M424.8 145.3h0M425.1 145.6h0M425.3 145.8h0M425.5 145.9h0M425.7 146h0M425.9 146h0M426.1 145.9h0M426.3 145.6h0M426.5 145.3h0M426.7 144.7h0M426.9 144h0M427.1 143h0M427.3 141.8h0M427.5 140.3h0M427.8 138.6h0M428 136.9h0M428.2 135.2h0M428.4 133.6h0M428.6 132.4h0M428.8 131.6h0M429 131.3h0M429.2 131.5h0M429.4 132.3h0M429.6 133.6h0M429.8 135.1h0M430 136.9h0M430.2 138.6h0M430.4 140.3h0M430.7 141.8h0M430.9 143h0M431.1 143.9h0M431.3 144.5h0M431.5 144.9h0M431.7 145h0M431.9 144.9h0M432.1 144.6h0M432.3 144.1h0M432.5 143.4h0M432.7 142.5h0M432.9 141.5h0M433.1 140.4h0M433.4 139.3h0M433.6 138.3h0M433.8 137.5h0M434 136.8h0M434.2 136.5h0M434.4 136.5h0M434.6 136.8h0M434.8 137.4h0M435 138.3h0M435.2 139.3h0M435.4 140.4h0M435.6 141.4h0M435.8 142.4h0M436.1 143.2h0M436.3 143.8h0M436.5 144.3h0M436.7 144.6h0M436.9 144.7h0M437.1 144.6h0M437.3 144.4h0M437.5 144.1h0M437.7 143.7h0M437.9 143.2h0M438.1 142.6h0M438.3 142h0M438.5 141.4h0M438.8 140.9h0M439 140.4h0M439.2 140.1h0M439.4 139.9h0M439.6 139.9h0M439.8 140.1h0M440 140.4h0M440.2 140.9h0M440.4 141.5h0M440.6 142.1h0M440.8 142.7h0M441 143.3h0M441.2 143.8h0M441.4 144.3h0M441.7 144.6h0M441.9 144.9h0M442.1 145h0M442.3 145h0M442.5 144.9h0M442.7 144.6h0M442.9 144.3h0M443.1 143.9h0M443.3 143.5h0M443.5 143h0M443.7 142.5h0M443.9 142h0M444.1 141.5h0M444.4 141.2h0M444.6 140.9h0M444.8 140.8h0M445 140.8h0M445.2 140.9h0M445.4 141.2h0M445.6 141.6h0M445.8 142h0M446 142.5h0M446.2 142.9h0M446.4 143.3h0M446.6 143.6h0M446.8 143.8h0M447 143.9h0M447.3 143.9h0M447.5 143.7h0M447.7 143.4h0M447.9 142.9h0M448.1 142.3h0M448.3 141.6h0M448.5 140.8h0M448.7 140h0M448.9 139.1h0M449.1 138.3h0M449.3 137.6h0M449.5 136.9h0M449.7 136.5h0M450 136.2h0M450.2 136.2h0M450.4 136.4h0M450.6 136.8h0M450.8 137.4h0M451 138.2h0M451.2 139h0M451.4 139.9h0M451.6 140.7h0M451.8 141.5h0M452 142.2h0M452.2 142.8h0M452.4 143.3h0M452.7 143.7h0M452.9 143.9h0M453.1 144h0M453.3 143.9h0M453.5 143.8h0M453.7 143.6h0M453.9 143.3h0M454.1 143h0M454.3 142.7h0M454.5 142.3h0M454.7 142h0M454.9 141.8h0M455.1 141.6h0M455.4 141.5h0M455.6 141.4h0M455.8 141.5h0M456 141.6h0M456.2 141.9h0M456.4 142.1h0M456.6 142.5h0M456.8 142.8h0M457 143.1h0M457.2 143.5h0M457.4 143.7h0M457.6 144h0M457.8 144.2h0M458 144.4h0M458.3 144.5h0M458.5 144.6h0M458.7 144.7h0M458.9 144.8h0M459.1 144.8h0M459.3 144.8h0M459.5 144.8h0M459.7 144.9h0M459.9 144.9h0M460.1 144.9h0M460.3 144.9h0M460.5 144.9h0M460.7 145h0M461 145h0M461.2 145h0M461.4 145h0M461.6 145h0M461.8 145.1h0M462 145.1h0M462.2 145h0M462.4 145h0M462.6 145h0M462.8 144.9h0M463 144.9h0M463.2 144.8h0M463.4 144.6h0M463.6 144.5h0M463.9 144.3h0M464.1 144.1h0M464.3 143.9h0M464.5 143.7h0M464.7 143.4h0M464.9 143.1h0M465.1 142.9h0M465.3 142.6h0M465.5 142.4h0M465.7 142.2h0M465.9 142h0M466.1 141.9h0M466.3 141.8h0M466.6 141.8h0M466.8 141.9h0M467 141.9h0M467.2 142.1h0M467.4 142.2h0M467.6 142.4h0M467.8 142.6h0M468 142.8h0M468.2 143h0M468.4 143.1h0M468.6 143.2h0M468.8 143.3h0M469 143.3h0M469.3 143.3h0M469.5 143.2h0M469.7 143h0M469.9 142.9h0M470.1 142.6h0M470.3 142.4h0M470.5 142.2h0M470.7 141.9h0M470.9 141.7h0M471.1 141.5h0M471.3 141.4h0M471.5 141.2h0M471.7 141.2h0M471.9 141.2h0M472.2 141.2h0M472.4 141.3h0M472.6 141.4h0M472.8 141.6h0M473 141.8h0M473.2 142h0M473.4 142.2h0M473.6 142.4h0M473.8 142.6h0M474 142.7h0M474.2 142.7h0M474.4 142.7h0M474.6 142.7h0M474.9 142.5h0M475.1 142.3h0M475.3 142h0M475.5 141.6h0M475.7 141.2h0M475.9 140.7h0M476.1 140.2h0M476.3 139.7h0M476.5 139.2h0M476.7 138.8h0M476.9 138.3h0M477.1 138h0M477.3 137.7h0M477.6 137.6h0M477.8 137.5h0M478 137.6h0M478.2 137.7h0M478.4 137.9h0M478.6 138.3h0M478.8 138.7h0M479 139.1h0M479.2 139.6h0M479.4 140.1h0M479.6 140.5h0M479.8 141h0M480 141.4h0M480.2 141.8h0M480.5 142.1h0M480.7 142.3h0M480.9 142.5h0M481.1 142.6h0M481.3 142.7h0M481.5 142.7h0M481.7 142.7h0M481.9 142.6h0M482.1 142.5h0M482.3 142.4h0M482.5 142.3h0M482.7 142.2h0M482.9 142.1h0M483.2 142.1h0M483.4 142h0M483.6 142h0M483.8 142.1h0M484 142.1h0M484.2 142.3h0M484.4 142.4h0M484.6 142.6h0M484.8 142.8h0M485 143h0M485.2 143.2h0M485.4 143.4h0M485.6 143.7h0M485.9 143.9h0M486.1 144.1h0M486.3 144.3h0M486.5 144.5h0M486.7 144.7h0M486.9 144.8h0M487.1 145h0M487.3 145.1h0M487.5 145.2h0M487.7 145.3h0M487.9 145.3h0M488.1 145.4h0M488.3 145.4h0M488.5 145.5h0M488.8 145.5h0M489 145.5h0M489.2 145.5h0M489.4 145.5h0M489.6 145.5h0M489.8 145.5h0M490 145.5h0M490.2 145.5h0M490.4 145.4h0M490.6 145.4h0M490.8 145.3h0M491 145.3h0M491.2 145.2h0M491.5 145.1h0M491.7 145h0M491.9 144.8h0M492.1 144.7h0M492.3 144.5h0M492.5 144.3h0M492.7 144.1h0M492.9 143.8h0M493.1 143.5h0M493.3 143.2h0M493.5 142.9h0M493.7 142.5h0M493.9 142.2h0M494.2 141.9h0M494.4 141.5h0M494.6 141.2h0M494.8 140.9h0M495 140.6h0M495.2 140.3h0M495.4 140.1h0M495.6 139.9h0M495.8 139.8h0M496 139.7h0M496.2 139.7h0M496.4 139.7h0M496.6 139.8h0M496.9 139.9h0M497.1 140.1h0M497.3 140.3h0M497.5 140.5h0M497.7 140.7h0M497.9 140.9h0M498.1 141.2h0M498.3 141.4h0M498.5 141.7h0M498.7 141.9h0M498.9 142.1h0M499.1 142.3h0M499.3 142.4h0M499.5 142.5h0M499.8 142.6h0M500 142.7h0M500.2 142.7h0M500.4 142.7h0M500.6 142.6h0M500.8 142.6h0M501 142.5h0M501.2 142.4h0M501.4 142.3h0M501.6 142.2h0M501.8 142.1h0M502 142h0M502.2 142h0M502.5 141.9h0M502.7 141.9h0M502.9 141.9h0M503.1 141.9h0M503.3 141.9h0M503.5 141.9h0M503.7 142h0M503.9 142.1h0M504.1 142.2h0M504.3 142.4h0M504.5 142.5h0M504.7 142.7h0M504.9 142.8h0M505.1 143h0M505.4 143.2h0M505.6 143.3h0M505.8 143.5h0M506 143.6h0M506.2 143.8h0M506.4 143.9h0M506.6 144.1h0M506.8 144.2h0M507 144.3h0M507.2 144.4h0M507.4 144.5h0M507.6 144.5h0M507.8 144.6h0M508.1 144.7h0M508.3 144.7h0M508.5 144.7h0M508.7 144.8h0M508.9 144.8h0M509.1 144.8h0M509.3 144.8h0M509.5 144.9h0M509.7 144.9h0M509.9 144.9h0M510.1 144.9h0M510.3 144.9h0M510.5 144.9h0M510.8 144.9h0M511 144.9h0M511.2 144.9h0M511.4 144.9h0M511.6 144.9h0M511.8 144.9h0M512 144.8h0M512.2 144.8h0M512.4 144.8h0M512.6 144.8h0M512.8 144.8h0M513 144.8h0M513.2 144.7h0M513.5 144.7h0M513.7 144.7h0M513.9 144.6h0M514.1 144.6h0M514.3 144.6h0M514.5 144.5h0M514.7 144.5h0M514.9 144.5h0M515.1 144.4h0M515.3 144.4h0M515.5 144.4h0M515.7 144.3h0M515.9 144.3h0M516.1 144.3h0M516.4 144.2h0M516.6 144.2h0M516.8 144.2h0M517 144.1h0M517.2 144.1h0M517.4 144.1h0M312.4 138.9h0M316.7 34h0M330.2 17h0M338.2 138.4h0M340.6 90.6h0M349.6 118.9h0M357.6 65.1h0M364.9 88.5h0M378.3 130.3h0M384.6 114h0M390.6 125.3h0M396.4 128.9h0" stroke="#6e000f" stroke-width="2.5" stroke-linecap="round" fill="none" opacity="0.88"/>
<path d="M312.4 160.3V166.9M316.7 160.3V166.9M330.2 160.3V166.9M338.2 160.3V166.9M340.6 160.3V166.9M349.6 160.3V166.9M355.6 160.3V166.9M357.6 160.3V166.9M364.9 160.3V166.9M370.1 160.3V166.9M378.3 160.3V166.9M383 160.3V166.9M384.6 160.3V166.9M390.6 160.3V166.9M394.9 160.3V166.9M396.4 160.3V166.9M402 160.3V166.9M406.2 160.3V166.9M407.6 160.3V166.9M413 160.3V166.9M417.1 160.3V166.9M423.7 160.3V166.9M427.7 160.3V166.9M429 160.3V166.9M434.3 160.3V166.9M438.2 160.3V166.9M439.6 160.3V166.9M444.8 160.3V166.9M448.8 160.3V166.9M450.1 160.3V166.9M455.5 160.3V166.9M459.6 160.3V166.9M466.4 160.3V166.9M470.6 160.3V166.9M472 160.3V166.9M477.8 160.3V166.9M482.2 160.3V166.9M483.7 160.3V166.9M494.6 160.3V166.9M496.2 160.3V166.9M502.9 160.3V166.9M508.2 160.3V166.9" stroke="#557a35" stroke-width="1" fill="none"/>
<path d="M293.5 173.2L316 173.2L316.6 171.4L317 174.8L317.6 173.2L329.4 173.2L330 172.7L330.4 173.7L331 173.2L339.9 173.2L340.5 172.7L340.9 173.7L341.5 173.2L356.8 173.2L357.4 171.8L357.8 175.2L358.4 173.2L364 173.2L364.6 171L365 174.8L365.6 173.2L377.7 173.2L378.3 172.7L378.7 173.9L379.3 173.2L383.8 173.2L384.4 172.2L384.8 174.2L385.4 173.2L389.2 173.2L389.8 172.4L390.2 173.9L390.8 173.2L393.8 173.2L394.4 172.7L394.8 173.7L395.4 173.2L406.2 173.2L406.8 172.7L407.2 173.7L407.8 173.2L413 173.2L413.6 172.7L414 173.7L414.6 173.2L428.2 173.2L428.8 172.9L429.2 173.5L429.8 173.2L517.2 173.2" stroke="#3030b4" stroke-width="1.05" fill="none" stroke-linejoin="round"/>
<path d="M316.8 170.2V175.9M330.2 172.8V173.6M340.7 172.8V173.6M357.6 171V176.6M364.8 169.4V175.9M378.5 172.8V174.1M384.6 171.8V174.6M390 172.3V174.1M394.6 172.8V173.6M407 172.8V173.6M413.8 172.8V173.6M429 173.2V173.2" stroke="#2020d8" stroke-width="1.5" stroke-linecap="round" fill="none"/>
<rect x="293.5" y="1.5" width="224.9" height="181" fill="none" stroke="#222" stroke-width="1.1"/>
<path d="M298.5 182.5v-2M298.5 1.5v2M305.2 182.5v-2M305.2 1.5v2M311.8 182.5v-2M311.8 1.5v2M318.5 182.5v-3.6M318.5 1.5v3.6M325.2 182.5v-2M325.2 1.5v2M331.8 182.5v-2M331.8 1.5v2M338.5 182.5v-2M338.5 1.5v2M345.1 182.5v-2M345.1 1.5v2M351.8 182.5v-3.6M351.8 1.5v3.6M358.5 182.5v-2M358.5 1.5v2M365.1 182.5v-2M365.1 1.5v2M371.8 182.5v-2M371.8 1.5v2M378.5 182.5v-2M378.5 1.5v2M385.1 182.5v-3.6M385.1 1.5v3.6M391.8 182.5v-2M391.8 1.5v2M398.5 182.5v-2M398.5 1.5v2M405.1 182.5v-2M405.1 1.5v2M411.8 182.5v-2M411.8 1.5v2M418.4 182.5v-3.6M418.4 1.5v3.6M425.1 182.5v-2M425.1 1.5v2M431.8 182.5v-2M431.8 1.5v2M438.4 182.5v-2M438.4 1.5v2M445.1 182.5v-2M445.1 1.5v2M451.8 182.5v-3.6M451.8 1.5v3.6M458.4 182.5v-2M458.4 1.5v2M465.1 182.5v-2M465.1 1.5v2M471.8 182.5v-2M471.8 1.5v2M478.4 182.5v-2M478.4 1.5v2M485.1 182.5v-3.6M485.1 1.5v3.6M491.7 182.5v-2M491.7 1.5v2M498.4 182.5v-2M498.4 1.5v2M505.1 182.5v-2M505.1 1.5v2M511.7 182.5v-2M511.7 1.5v2M518.4 182.5v-3.6M518.4 1.5v3.6M293.5 178.8h2M518.4 178.8h-2M293.5 171.7h2M518.4 171.7h-2M293.5 164.6h2M518.4 164.6h-2M293.5 157.5h2M518.4 157.5h-2M293.5 150.4h3.6M518.4 150.4h-3.6M293.5 143.3h2M518.4 143.3h-2M293.5 136.2h2M518.4 136.2h-2M293.5 129.1h2M518.4 129.1h-2M293.5 122h2M518.4 122h-2M293.5 114.9h3.6M518.4 114.9h-3.6M293.5 107.8h2M518.4 107.8h-2M293.5 100.7h2M518.4 100.7h-2M293.5 93.6h2M518.4 93.6h-2M293.5 86.5h2M518.4 86.5h-2M293.5 79.5h3.6M518.4 79.5h-3.6M293.5 72.4h2M518.4 72.4h-2M293.5 65.3h2M518.4 65.3h-2M293.5 58.2h2M518.4 58.2h-2M293.5 51.1h2M518.4 51.1h-2M293.5 44h3.6M518.4 44h-3.6M293.5 36.9h2M518.4 36.9h-2M293.5 29.8h2M518.4 29.8h-2M293.5 22.7h2M518.4 22.7h-2M293.5 15.6h2M518.4 15.6h-2M293.5 8.5h3.6M518.4 8.5h-3.6" stroke="#222" stroke-width="0.9" fill="none"/>
<text x="318.5" y="194.6" text-anchor="middle" class="t">20</text>
<text x="351.8" y="194.6" text-anchor="middle" class="t">40</text>
<text x="385.1" y="194.6" text-anchor="middle" class="t">60</text>
<text x="418.4" y="194.6" text-anchor="middle" class="t">80</text>
<text x="451.8" y="194.6" text-anchor="middle" class="t">100</text>
<text x="485.1" y="194.6" text-anchor="middle" class="t">120</text>
<text x="290.3" y="153.9" text-anchor="end" class="t">0</text>
<text x="290.3" y="118.4" text-anchor="end" class="t">5</text>
<text x="290.3" y="83" text-anchor="end" class="t">10</text>
<text x="290.3" y="47.5" text-anchor="end" class="t">15</text>
<text x="290.3" y="12" text-anchor="end" class="t">20</text>
<text transform="translate(276.5 92) rotate(-90)" text-anchor="middle" class="t">Intensity / 10<tspan class="sup" dy="-3.5">3</tspan><tspan dy="3.5"> counts</tspan></text>
<text x="405.8" y="213" text-anchor="middle" class="xl">2θ / °</text>
<text x="401.9" y="230.6" text-anchor="middle" class="cap">(b)</text>
<text x="430" y="14.8" class="a"><tspan class="sup" dy="-3.5">25</tspan><tspan dy="3.5">MgO  (</tspan><tspan class="i">Fm</tspan><tspan class="i ol" id="olb">3</tspan><tspan class="i">m</tspan>)</text>
<path d="M477.4 6.6H480.9" stroke="#555" stroke-width="0.8"/>
<text x="430" y="28.5" class="a">ILL, D4, λ = 69.8 pm</text>
<text x="430" y="39.8" class="a a3"><tspan class="i">FullProf</tspan>, <tspan class="i">R</tspan><tspan class="i sub" dy="3.2">wp</tspan><tspan dy="-3.2"> = 4.97%</tspan></text>
<path d="M35.4 386.2L38.8 386L39.7 385.4L40.3 385.6L40.7 385.5L41.6 384.4L41.9 382.1L42.3 361.2L42.8 269.1L43.4 362.7L43.7 382.3L43.9 384L44.4 384.9L45.1 385.5L46.4 385.7L48.6 385.6L50 385.2L50.8 384.3L51.2 382.8L51.5 377L51.7 362L52.3 257.1L53.2 374.1L53.6 382.7L53.9 384.1L54.7 385L56 385.3L57.4 385L58.3 384L58.7 382.2L59 371.7L59.7 325.7L60.5 373L60.9 383.4L61.5 384.6L62.9 384.9L64.3 384.6L64.8 383.4L65.2 377.4L66 353.6L66.8 377.3L67.1 382.8L67.5 384.1L68.4 384.3L69.5 383.6L70 382.2L70.4 377.4L70.7 366.8L71.6 294L72.6 373.1L73 381.2L73.3 382.6L73.8 383.2L74.6 383.2L75 382.4L75.5 377.1L76.6 317.3L77.8 376.8L78.2 382.4L78.6 383.3L79.3 383.8L81.2 384.1L82.9 384L83.8 383.7L84.2 383L84.7 379.3L85.7 364L86.9 380.9L87.5 382.8L87.8 382.8L88.2 382.1L88.8 374.7L89.9 343.9L91.1 376.4L91.4 381.1L91.9 382.7L92.3 381.9L92.7 379.1L93.9 358.3L94.2 361.4L95 378.8L95.6 383L95.8 383.1L96 382.6L96.4 380.2L97.3 364.9L97.7 362.4L98 365L98.9 379.5L99.5 383.2L99.7 383.5L100.1 383.4L101.3 381.5L102.6 383.2L102.9 383.1L103.1 382.7L103.6 380L104.5 369.8L104.9 367.8L105.3 369.5L106.1 379.1L106.3 380.3L106.6 380.5L107.1 376.6L108 359.3L108.3 356L108.7 359.2L109.9 379.7L110.4 382.6L110.7 383.2L111.1 383.4L112.5 383.4L113.2 383.1L114.9 380.7L115.9 381.3L116.3 380.9L116.8 377.4L117.8 366.1L118.2 364.4L118.6 366.3L119.4 375.4L119.8 377.1L120.1 376.4L120.9 371.5L121.3 370.4L121.7 371.4L122.5 377L122.9 378.4L123.3 378.2L124.4 375.3L124.7 375.7L125.9 378.9L126.2 378.6L127.4 375.8L127.7 375.9L128.3 377.1L128.7 377.2L129.1 376L130 371L130.4 370.2L130.8 371.1L132 377L132.4 377.3L133.1 376.7L133.5 376.8L135.1 380.9L135.5 381.6L136.1 381.8L136.6 381.7L137.2 381.1L139 377.3L139.4 377.2L140.2 377.7L140.6 377.7L141.8 376.1L142.9 375.3L144.3 370.6L144.8 369.9L145.2 370.6L146.6 375.1L147.9 376.7L149.4 379.7L150 380.2L150.5 379.9L150.9 379.1L152.5 372.8L153.3 371.7L156.1 375L158 379.2L158.9 379.9L159.8 379.6L161.2 378.5L163.5 375.5L164.4 374.9L166.8 374.7L169.2 375L171.9 376.4L173.7 376.8L174.7 376.5L176.6 375L177.3 374.8L178.1 375.3L179.8 377.7L180.8 378.2L182.1 377.5L184.7 374.3L185.8 373.7L186.7 374.1L189.4 376.4L191 377.2L193 377.2L196 375.7L197.2 375.5L198.6 376L201.6 378L203 378.4L204.7 378.1L208.5 376.1L210.4 375.7L216 377.1L217.4 377L220.4 376.1L221.8 376.1L225.7 377.5L227.1 377.8L231.5 377.5L243 377.9L248.6 377.3L252.9 378.1" stroke="#222" stroke-width="1.3" fill="none" stroke-linejoin="round"/>
<path d="M35.4 386.2h0M35.6 386.2h0M35.8 386.2h0M36 386.2h0M36.2 386.2h0M36.5 386.2h0M36.7 386.2h0M36.9 386.1h0M37.1 386.1h0M37.3 386.1h0M37.5 386.1h0M37.7 386.1h0M37.9 386.1h0M38.1 386.1h0M38.3 386.1h0M38.5 386h0M38.8 386h0M39 386h0M39.2 385.9h0M39.4 385.7h0M39.6 385.5h0M39.8 385.4h0M40 385.5h0M40.2 385.6h0M40.4 385.6h0M40.6 385.5h0M40.8 385.4h0M41.1 385.2h0M41.3 385h0M41.5 384.6h0M41.7 384h0M41.9 382.3h0M42.1 375.9h0M42.3 355.4h0M42.5 314.4h0M42.7 274.1h0M42.9 279.2h0M43.1 322.9h0M43.3 360.6h0M43.6 377.7h0M43.8 382.7h0M44 384h0M44.2 384.6h0M44.4 384.9h0M44.6 385.2h0M44.8 385.3h0M45 385.4h0M45.2 385.5h0M45.4 385.6h0M45.6 385.6h0M45.9 385.7h0M46.1 385.7h0M46.3 385.7h0M46.5 385.7h0M46.7 385.7h0M46.9 385.7h0M47.1 385.7h0M47.3 385.7h0M47.5 385.7h0M47.7 385.7h0M47.9 385.7h0M48.1 385.7h0M48.4 385.7h0M48.6 385.6h0M48.8 385.6h0M49 385.6h0M49.2 385.5h0M49.4 385.4h0M49.6 385.4h0M49.8 385.3h0M50 385.1h0M50.2 385h0M50.4 384.8h0M50.7 384.5h0M50.9 384.1h0M51.1 383.3h0M51.3 381.5h0M51.5 375.9h0M51.7 360.2h0M51.9 327.8h0M52.1 284.6h0M52.3 257.6h0M52.5 273.3h0M52.7 315.4h0M52.9 352.5h0M53.2 372.7h0M53.4 380.4h0M53.6 382.9h0M53.8 383.8h0M54 384.3h0M54.2 384.6h0M54.4 384.8h0M54.6 384.9h0M54.8 385h0M55 385.1h0M55.2 385.2h0M55.5 385.2h0M55.7 385.3h0M55.9 385.3h0M56.1 385.3h0M56.3 385.3h0M56.5 385.3h0M56.7 385.2h0M56.9 385.2h0M57.1 385.1h0M57.3 385h0M57.5 384.9h0M57.8 384.7h0M58 384.5h0M58.2 384.3h0M58.4 383.9h0M58.6 382.9h0M58.8 380.1h0M59 373h0M59.2 359.7h0M59.4 342h0M59.6 327.9h0M59.8 327.9h0M60 342.1h0M60.3 359.8h0M60.5 373h0M60.7 380h0M60.9 382.9h0M61.1 384h0M61.3 384.4h0M61.5 384.6h0M61.7 384.7h0M61.9 384.8h0M62.1 384.9h0M62.3 384.9h0M62.6 384.9h0M62.8 384.9h0M63 384.9h0M63.2 384.9h0M63.4 384.9h0M63.6 384.9h0M63.8 384.8h0M64 384.7h0M64.2 384.6h0M64.4 384.5h0M64.6 384.1h0M64.8 383.2h0M65.1 381.1h0M65.3 376.7h0M65.5 369.6h0M65.7 361.1h0M65.9 354.6h0M66.1 354.5h0M66.3 360.7h0M66.5 369.2h0M66.7 376.4h0M66.9 380.8h0M67.1 382.9h0M67.4 383.8h0M67.6 384.1h0M67.8 384.2h0M68 384.3h0M68.2 384.3h0M68.4 384.3h0M68.6 384.2h0M68.8 384.1h0M69 384h0M69.2 383.9h0M69.4 383.7h0M69.6 383.4h0M69.9 382.9h0M70.1 381.9h0M70.3 379.8h0M70.5 375h0M70.7 365.3h0M70.9 349h0M71.1 327.1h0M71.3 305.6h0M71.5 294.2h0M71.7 300.2h0M71.9 319.6h0M72.2 342.2h0M72.4 360.7h0M72.6 372.4h0M72.8 378.5h0M73 381.2h0M73.2 382.4h0M73.4 382.9h0M73.6 383.1h0M73.8 383.2h0M74 383.3h0M74.2 383.3h0M74.5 383.2h0M74.7 383.1h0M74.9 382.7h0M75.1 382h0M75.3 380.3h0M75.5 376.7h0M75.7 369.7h0M75.9 358.4h0M76.1 343.5h0M76.3 328.2h0M76.5 318.4h0M76.7 319.2h0M77 330.2h0M77.2 345.6h0M77.4 360.2h0M77.6 370.9h0M77.8 377.4h0M78 380.8h0M78.2 382.3h0M78.4 383h0M78.6 383.4h0M78.8 383.6h0M79 383.7h0M79.3 383.8h0M79.5 383.9h0M79.7 383.9h0M79.9 383.9h0M80.1 384h0M80.3 384h0M80.5 384h0M80.7 384.1h0M80.9 384.1h0M81.1 384.1h0M81.3 384.1h0M81.5 384.1h0M81.8 384.1h0M82 384.1h0M82.2 384.1h0M82.4 384.1h0M82.6 384.1h0M82.8 384h0M83 384h0M83.2 384h0M83.4 383.9h0M83.6 383.8h0M83.8 383.6h0M84.1 383.4h0M84.3 382.8h0M84.5 381.7h0M84.7 379.7h0M84.9 376.8h0M85.1 373h0M85.3 368.8h0M85.5 365.4h0M85.7 364h0M85.9 365.2h0M86.1 368.6h0M86.3 372.6h0M86.6 376.4h0M86.8 379.3h0M87 381.2h0M87.2 382.3h0M87.4 382.7h0M87.6 382.9h0M87.8 382.8h0M88 382.5h0M88.2 381.8h0M88.4 380.3h0M88.6 377.8h0M88.9 373.6h0M89.1 367.6h0M89.3 360.1h0M89.5 352.3h0M89.7 346.2h0M89.9 343.9h0M90.1 346.4h0M90.3 352.6h0M90.5 360.4h0M90.7 367.9h0M90.9 373.9h0M91.2 378h0M91.4 380.6h0M91.6 382h0M91.8 382.6h0M92 382.7h0M92.2 382.4h0M92.4 381.5h0M92.6 379.7h0M92.8 376.7h0M93 372.7h0M93.2 367.8h0M93.4 363.1h0M93.7 359.6h0M93.9 358.3h0M94.1 359.6h0M94.3 363h0M94.5 367.8h0M94.7 372.7h0M94.9 376.8h0M95.1 379.9h0M95.3 381.8h0M95.5 382.8h0M95.7 383.1h0M96 382.9h0M96.2 382.1h0M96.4 380.5h0M96.6 378.1h0M96.8 374.8h0M97 370.9h0M97.2 367h0M97.4 364h0M97.6 362.4h0M97.8 362.9h0M98 365.2h0M98.2 368.7h0M98.5 372.7h0M98.7 376.4h0M98.9 379.3h0M99.1 381.3h0M99.3 382.6h0M99.5 383.2h0M99.7 383.5h0M99.9 383.5h0M100.1 383.3h0M100.3 383h0M100.5 382.6h0M100.8 382.2h0M101 381.8h0M101.2 381.6h0M101.4 381.5h0M101.6 381.6h0M101.8 381.9h0M102 382.3h0M102.2 382.7h0M102.4 383h0M102.6 383.2h0M102.8 383.2h0M103 382.9h0M103.3 382.3h0M103.5 381.3h0M103.7 379.7h0M103.9 377.5h0M104.1 375h0M104.3 372.3h0M104.5 369.9h0M104.7 368.3h0M104.9 367.8h0M105.1 368.6h0M105.3 370.4h0M105.6 372.9h0M105.8 375.5h0M106 377.9h0M106.2 379.6h0M106.4 380.5h0M106.6 380.4h0M106.8 379.4h0M107 377.2h0M107.2 374h0M107.4 370h0M107.6 365.5h0M107.9 361.2h0M108.1 357.9h0M108.3 356.2h0M108.5 356.4h0M108.7 358.6h0M108.9 362.2h0M109.1 366.6h0M109.3 371h0M109.5 374.9h0M109.7 378h0M109.9 380.2h0M110.1 381.7h0M110.4 382.5h0M110.6 383h0M110.8 383.2h0M111 383.3h0M111.2 383.4h0M111.4 383.4h0M111.6 383.4h0M111.8 383.4h0M112 383.4h0M112.2 383.4h0M112.4 383.4h0M112.7 383.3h0M112.9 383.3h0M113.1 383.2h0M113.3 383h0M113.5 382.8h0M113.7 382.6h0M113.9 382.2h0M114.1 381.8h0M114.3 381.4h0M114.5 381h0M114.7 380.8h0M114.9 380.6h0M115.2 380.7h0M115.4 380.8h0M115.6 381.1h0M115.8 381.2h0M116 381.3h0M116.2 381h0M116.4 380.4h0M116.6 379.2h0M116.8 377.5h0M117 375.3h0M117.2 372.7h0M117.5 369.9h0M117.7 367.4h0M117.9 365.5h0M118.1 364.5h0M118.3 364.5h0M118.5 365.6h0M118.7 367.5h0M118.9 369.9h0M119.1 372.4h0M119.3 374.6h0M119.5 376.1h0M119.7 377h0M120 377h0M120.2 376.4h0M120.4 375.2h0M120.6 373.7h0M120.8 372.3h0M121 371.2h0M121.2 370.5h0M121.4 370.5h0M121.6 371.2h0M121.8 372.3h0M122 373.8h0M122.3 375.4h0M122.5 376.8h0M122.7 377.8h0M122.9 378.4h0M123.1 378.5h0M123.3 378.2h0M123.5 377.6h0M123.7 376.8h0M123.9 376.1h0M124.1 375.5h0M124.3 375.3h0M124.6 375.4h0M124.8 375.8h0M125 376.4h0M125.2 377.2h0M125.4 378h0M125.6 378.6h0M125.8 378.9h0M126 378.9h0M126.2 378.7h0M126.4 378.2h0M126.6 377.5h0M126.8 376.8h0M127.1 376.3h0M127.3 375.9h0M127.5 375.8h0M127.7 375.9h0M127.9 376.2h0M128.1 376.7h0M128.3 377.1h0M128.5 377.3h0M128.7 377.2h0M128.9 376.7h0M129.1 375.9h0M129.4 374.8h0M129.6 373.6h0M129.8 372.3h0M130 371.2h0M130.2 370.5h0M130.4 370.2h0M130.6 370.5h0M130.8 371.2h0M131 372.2h0M131.2 373.4h0M131.4 374.7h0M131.6 375.7h0M131.9 376.6h0M132.1 377.1h0M132.3 377.3h0M132.5 377.3h0M132.7 377.1h0M132.9 376.9h0M133.1 376.7h0M133.3 376.7h0M133.5 376.8h0M133.7 377.2h0M133.9 377.7h0M134.2 378.3h0M134.4 378.9h0M134.6 379.6h0M134.8 380.2h0M135 380.7h0M135.2 381.1h0M135.4 381.4h0M135.6 381.6h0M135.8 381.8h0M136 381.8h0M136.2 381.8h0M136.4 381.8h0M136.7 381.7h0M136.9 381.5h0M137.1 381.2h0M137.3 380.9h0M137.5 380.5h0M137.7 380.1h0M137.9 379.5h0M138.1 379h0M138.3 378.5h0M138.5 378h0M138.7 377.6h0M139 377.3h0M139.2 377.2h0M139.4 377.2h0M139.6 377.3h0M139.8 377.4h0M140 377.6h0M140.2 377.7h0M140.4 377.7h0M140.6 377.6h0M140.8 377.5h0M141 377.2h0M141.3 376.9h0M141.5 376.5h0M141.7 376.2h0M141.9 376h0M142.1 375.8h0M142.3 375.7h0M142.5 375.6h0M142.7 375.5h0M142.9 375.2h0M143.1 374.8h0M143.3 374.2h0M143.5 373.5h0M143.8 372.7h0M144 371.9h0M144.2 371.1h0M144.4 370.4h0M144.6 370h0M144.8 369.9h0M145 370.1h0M145.2 370.5h0M145.4 371.2h0M145.6 372h0M145.8 372.8h0M146.1 373.6h0M146.3 374.3h0M146.5 374.9h0M146.7 375.3h0M146.9 375.6h0M147.1 375.8h0M147.3 376h0M147.5 376.2h0M147.7 376.4h0M147.9 376.7h0M148.1 377.1h0M148.3 377.6h0M148.6 378h0M148.8 378.5h0M149 379h0M149.2 379.4h0M149.4 379.7h0M149.6 380h0M149.8 380.2h0M150 380.2h0M150.2 380.2h0M150.4 380h0M150.6 379.7h0M150.9 379.2h0M151.1 378.7h0M151.3 378h0M151.5 377.2h0M151.7 376.3h0M151.9 375.4h0M152.1 374.5h0M152.3 373.7h0M152.5 372.9h0M152.7 372.3h0M152.9 371.9h0M153.1 371.7h0M153.4 371.7h0M153.6 371.8h0M153.8 372.1h0M154 372.4h0M154.2 372.8h0M154.4 373.2h0M154.6 373.5h0M154.8 373.7h0M155 373.9h0M155.2 374.1h0M155.4 374.3h0M155.7 374.5h0M155.9 374.7h0M156.1 375h0M156.3 375.4h0M156.5 375.9h0M156.7 376.4h0M156.9 376.9h0M157.1 377.4h0M157.3 377.9h0M157.5 378.4h0M157.7 378.8h0M158 379.1h0M158.2 379.4h0M158.4 379.6h0M158.6 379.8h0M158.8 379.8h0M159 379.9h0M159.2 379.8h0M159.4 379.8h0M159.6 379.7h0M159.8 379.6h0M160 379.4h0M160.2 379.3h0M160.5 379.1h0M160.7 379h0M160.9 378.8h0M161.1 378.6h0M161.3 378.4h0M161.5 378.2h0M161.7 378h0M161.9 377.7h0M162.1 377.5h0M162.3 377.2h0M162.5 376.9h0M162.8 376.6h0M163 376.2h0M163.2 375.9h0M163.4 375.6h0M163.6 375.4h0M163.8 375.2h0M164 375h0M164.2 374.9h0M164.4 374.9h0M164.6 374.8h0M164.8 374.8h0M165 374.8h0M165.3 374.8h0M165.5 374.8h0M165.7 374.8h0M165.9 374.8h0M166.1 374.8h0M166.3 374.8h0M166.5 374.7h0M166.7 374.7h0M166.9 374.7h0M167.1 374.7h0M167.3 374.8h0M167.6 374.8h0M167.8 374.8h0M168 374.8h0M168.2 374.9h0M168.4 374.9h0M168.6 374.9h0M168.8 374.9h0M169 374.9h0M169.2 375h0M169.4 375h0M169.6 375.1h0M169.8 375.2h0M170.1 375.3h0M170.3 375.4h0M170.5 375.6h0M170.7 375.7h0M170.9 375.8h0M171.1 376h0M171.3 376.1h0M171.5 376.2h0M171.7 376.3h0M171.9 376.4h0M172.1 376.5h0M172.4 376.5h0M172.6 376.6h0M172.8 376.7h0M173 376.7h0M173.2 376.8h0M173.4 376.8h0M173.6 376.8h0M173.8 376.8h0M174 376.8h0M174.2 376.7h0M174.4 376.6h0M174.7 376.5h0M174.9 376.4h0M175.1 376.3h0M175.3 376.1h0M175.5 375.9h0M175.7 375.7h0M175.9 375.5h0M176.1 375.3h0M176.3 375.1h0M176.5 375h0M176.7 374.9h0M176.9 374.8h0M177.2 374.7h0M177.4 374.8h0M177.6 374.9h0M177.8 375h0M178 375.2h0M178.2 375.5h0M178.4 375.7h0M178.6 376.1h0M178.8 376.4h0M179 376.7h0M179.2 377h0M179.5 377.3h0M179.7 377.6h0M179.9 377.8h0M180.1 378h0M180.3 378.1h0M180.5 378.2h0M180.7 378.2h0M180.9 378.2h0M181.1 378.1h0M181.3 378.1h0M181.5 377.9h0M181.7 377.8h0M182 377.6h0M182.2 377.4h0M182.4 377.2h0M182.6 377h0M182.8 376.8h0M183 376.5h0M183.2 376.2h0M183.4 376h0M183.6 375.7h0M183.8 375.4h0M184 375.1h0M184.3 374.8h0M184.5 374.6h0M184.7 374.3h0M184.9 374.1h0M185.1 374h0M185.3 373.8h0M185.5 373.7h0M185.7 373.7h0M185.9 373.7h0M186.1 373.8h0M186.3 373.8h0M186.5 374h0M186.8 374.1h0M187 374.3h0M187.2 374.5h0M187.4 374.7h0M187.6 374.9h0M187.8 375.1h0M188 375.3h0M188.2 375.4h0M188.4 375.6h0M188.6 375.8h0M188.8 376h0M189.1 376.1h0M189.3 376.3h0M189.5 376.4h0M189.7 376.6h0M189.9 376.7h0M190.1 376.8h0M190.3 376.9h0M190.5 377h0M190.7 377.1h0M190.9 377.1h0M191.1 377.2h0M191.4 377.2h0M191.6 377.3h0M191.8 377.3h0M192 377.3h0M192.2 377.3h0M192.4 377.3h0M192.6 377.3h0M192.8 377.2h0M193 377.2h0M193.2 377.1h0M193.4 377h0M193.6 377h0M193.9 376.9h0M194.1 376.8h0M194.3 376.7h0M194.5 376.5h0M194.7 376.4h0M194.9 376.3h0M195.1 376.2h0M195.3 376h0M195.5 375.9h0M195.7 375.8h0M195.9 375.7h0M196.2 375.7h0M196.4 375.6h0M196.6 375.6h0M196.8 375.5h0M197 375.5h0M197.2 375.5h0M197.4 375.6h0M197.6 375.6h0M197.8 375.7h0M198 375.8h0M198.2 375.9h0M198.4 376h0M198.7 376.1h0M198.9 376.2h0M199.1 376.3h0M199.3 376.5h0M199.5 376.6h0M199.7 376.7h0M199.9 376.9h0M200.1 377h0M200.3 377.2h0M200.5 377.3h0M200.7 377.5h0M201 377.6h0M201.2 377.7h0M201.4 377.9h0M201.6 378h0M201.8 378.1h0M202 378.1h0M202.2 378.2h0M202.4 378.3h0M202.6 378.3h0M202.8 378.4h0M203 378.4h0M203.2 378.4h0M203.5 378.4h0M203.7 378.3h0M203.9 378.3h0M204.1 378.3h0M204.3 378.2h0M204.5 378.2h0M204.7 378.1h0M204.9 378h0M205.1 377.9h0M205.3 377.8h0M205.5 377.7h0M205.8 377.6h0M206 377.5h0M206.2 377.4h0M206.4 377.3h0M206.6 377.1h0M206.8 377h0M207 376.9h0M207.2 376.8h0M207.4 376.6h0M207.6 376.5h0M207.8 376.4h0M208.1 376.3h0M208.3 376.2h0M208.5 376.1h0M208.7 376h0M208.9 375.9h0M209.1 375.9h0M209.3 375.8h0M209.5 375.8h0M209.7 375.7h0M209.9 375.7h0M210.1 375.7h0M210.3 375.7h0M210.6 375.7h0M210.8 375.7h0M211 375.7h0M211.2 375.7h0M211.4 375.8h0M211.6 375.8h0M211.8 375.9h0M212 375.9h0M212.2 376h0M212.4 376.1h0M212.6 376.2h0M212.9 376.2h0M213.1 376.3h0M213.3 376.4h0M213.5 376.5h0M213.7 376.6h0M213.9 376.6h0M214.1 376.7h0M214.3 376.8h0M214.5 376.8h0M214.7 376.9h0M214.9 377h0M215.1 377h0M215.4 377h0M215.6 377.1h0M215.8 377.1h0M216 377.1h0M216.2 377.1h0M216.4 377.1h0M216.6 377.1h0M216.8 377.1h0M217 377h0M217.2 377h0M217.4 377h0M217.7 376.9h0M217.9 376.9h0M218.1 376.8h0M218.3 376.7h0M218.5 376.7h0M218.7 376.6h0M218.9 376.5h0M219.1 376.5h0M219.3 376.4h0M219.5 376.3h0M219.7 376.3h0M219.9 376.2h0M220.2 376.2h0M220.4 376.1h0M220.6 376.1h0M220.8 376.1h0M221 376.1h0M221.2 376.1h0M221.4 376.1h0M221.6 376.1h0M221.8 376.1h0M222 376.1h0M222.2 376.2h0M222.5 376.2h0M222.7 376.3h0M222.9 376.4h0M223.1 376.4h0M223.3 376.5h0M223.5 376.6h0M223.7 376.7h0M223.9 376.8h0M224.1 376.9h0M224.3 377h0M224.5 377.1h0M224.8 377.2h0M225 377.3h0M225.2 377.3h0M225.4 377.4h0M225.6 377.5h0M225.8 377.6h0M226 377.6h0M226.2 377.7h0M226.4 377.7h0M226.6 377.7h0M226.8 377.8h0M227 377.8h0M227.3 377.8h0M227.5 377.8h0M227.7 377.8h0M227.9 377.8h0M228.1 377.8h0M228.3 377.8h0M228.5 377.7h0M228.7 377.7h0M228.9 377.7h0M229.1 377.7h0M229.3 377.7h0M229.6 377.6h0M229.8 377.6h0M230 377.6h0M230.2 377.6h0M230.4 377.6h0M230.6 377.6h0M230.8 377.6h0M231 377.5h0M231.2 377.5h0M231.4 377.5h0M231.6 377.5h0M231.8 377.5h0M232.1 377.6h0M232.3 377.6h0M232.5 377.6h0M232.7 377.6h0M232.9 377.6h0M233.1 377.6h0M233.3 377.6h0M233.5 377.6h0M233.7 377.6h0M233.9 377.7h0M234.1 377.7h0M234.4 377.7h0M234.6 377.7h0M234.8 377.7h0M235 377.7h0M235.2 377.7h0M235.4 377.7h0M235.6 377.7h0M235.8 377.7h0M236 377.7h0M236.2 377.7h0M236.4 377.7h0M236.6 377.7h0M236.9 377.7h0M237.1 377.7h0M237.3 377.7h0M237.5 377.7h0M237.7 377.7h0M237.9 377.7h0M238.1 377.7h0M238.3 377.7h0M238.5 377.7h0M238.7 377.7h0M238.9 377.7h0M239.2 377.7h0M239.4 377.7h0M239.6 377.7h0M239.8 377.7h0M240 377.7h0M240.2 377.8h0M240.4 377.8h0M240.6 377.8h0M240.8 377.8h0M241 377.8h0M241.2 377.8h0M241.5 377.9h0M241.7 377.9h0M241.9 377.9h0M242.1 377.9h0M242.3 377.9h0M242.5 377.9h0M242.7 377.9h0M242.9 377.9h0M243.1 377.9h0M243.3 377.9h0M243.5 377.9h0M243.7 377.9h0M244 377.8h0M244.2 377.8h0M244.4 377.8h0M244.6 377.8h0M244.8 377.7h0M245 377.7h0M245.2 377.7h0M245.4 377.6h0M245.6 377.6h0M245.8 377.6h0M246 377.5h0M246.3 377.5h0M246.5 377.5h0M246.7 377.5h0M246.9 377.4h0M247.1 377.4h0M247.3 377.4h0M247.5 377.4h0M247.7 377.3h0M247.9 377.3h0M248.1 377.3h0M248.3 377.3h0M248.5 377.3h0M248.8 377.3h0M249 377.3h0M249.2 377.3h0M249.4 377.4h0M249.6 377.4h0M249.8 377.4h0M250 377.4h0M250.2 377.5h0M250.4 377.5h0M250.6 377.5h0M250.8 377.6h0M251.1 377.6h0M251.3 377.7h0M251.5 377.7h0M251.7 377.8h0M251.9 377.8h0M252.1 377.9h0M252.3 377.9h0M252.5 378h0M252.7 378h0M52.5 252h0M42.8 269.5h0M52.4 257.5h0M59.7 326.1h0M66 354h0M71.6 294.4h0M76.6 317.7h0M85.7 364.4h0M89.9 344.3h0" stroke="#6e000f" stroke-width="2.5" stroke-linecap="round" fill="none" opacity="0.88"/>
<path d="M39.7 398V404.4M42.8 398V404.4M52.4 398V404.4M58 398V404.4M59.7 398V404.4M66 398V404.4M70.2 398V404.4M71.6 398V404.4M76.6 398V404.4M80.2 398V404.4M85.7 398V404.4M88.9 398V404.4M89.9 398V404.4M93.9 398V404.4M96.7 398V404.4M97.7 398V404.4M101.4 398V404.4M104 398V404.4M104.9 398V404.4M108.3 398V404.4M110.9 398V404.4M115 398V404.4M117.4 398V404.4M118.2 398V404.4M121.3 398V404.4M123.6 398V404.4M124.4 398V404.4M127.4 398V404.4M129.7 398V404.4M130.4 398V404.4M133.3 398V404.4M135.5 398V404.4M139.1 398V404.4M141.2 398V404.4M141.9 398V404.4M144.8 398V404.4M146.8 398V404.4M147.5 398V404.4M152.4 398V404.4M153.1 398V404.4M155.8 398V404.4M157.8 398V404.4M161.2 398V404.4M163.3 398V404.4M163.9 398V404.4M166.6 398V404.4M168.7 398V404.4M169.3 398V404.4M172 398V404.4M174 398V404.4M174.7 398V404.4M177.4 398V404.4M179.4 398V404.4M182.8 398V404.4M184.9 398V404.4M185.5 398V404.4M188.3 398V404.4M190.3 398V404.4M191 398V404.4M193.7 398V404.4M195.8 398V404.4M196.5 398V404.4M199.3 398V404.4M201.4 398V404.4M205 398V404.4M207.1 398V404.4M207.9 398V404.4M210.8 398V404.4M213 398V404.4M213.7 398V404.4M216.7 398V404.4M219 398V404.4M219.7 398V404.4M222.8 398V404.4M225.2 398V404.4M229.2 398V404.4M231.6 398V404.4M232.5 398V404.4M235.8 398V404.4M238.4 398V404.4M239.3 398V404.4M245.6 398V404.4M246.6 398V404.4M250.4 398V404.4" stroke="#557a35" stroke-width="1" fill="none"/>
<path d="M35.4 413.2L42.4 413.2L43 410.5L43.4 414.3L44 413.2L51.5 413.2L52.1 410.9L52.5 414.3L53.1 413.2L58.7 413.2L59.3 412.7L59.7 413.7L60.3 413.2L64.1 413.2L64.7 412.7L65.1 413.7L65.7 413.2L70.2 413.2L70.8 412.1L71.2 414.6L71.8 413.2L74.9 413.2L75.5 412.7L75.9 415.1L76.5 413.2L84.7 413.2L85.3 412.8L85.7 413.6L86.3 413.2L88.7 413.2L89.3 412.7L89.7 413.9L90.3 413.2L93 413.2L93.6 412.8L94 413.6L94.6 413.2L96.9 413.2L97.5 412.8L97.9 413.6L98.5 413.2L103.8 413.2L104.4 412.9L104.8 413.5L105.4 413.2L107.2 413.2L107.8 412.8L108.2 413.6L108.8 413.2L117.2 413.2L117.8 412.9L118.2 413.5L118.8 413.2L252.6 413.2" stroke="#3030b4" stroke-width="1.05" fill="none" stroke-linejoin="round"/>
<path d="M43.2 408.4V414.8M52.3 409.2V414.8M59.5 412.8V413.6M64.9 412.8V413.6M71 411.5V415.3M75.7 412.8V416.3M85.5 413V413.4M89.5 412.8V414.1M93.8 413V413.4M97.7 413V413.4M104.6 413.2V413.2M108 413V413.4M118 413.2V413.2" stroke="#2020d8" stroke-width="1.5" stroke-linecap="round" fill="none"/>
<rect x="28.4" y="238.5" width="225.4" height="181.3" fill="none" stroke="#222" stroke-width="1.1"/>
<path d="M33.4 419.8v-2M33.4 238.5v2M40.1 419.8v-2M40.1 238.5v2M46.8 419.8v-2M46.8 238.5v2M53.4 419.8v-3.6M53.4 238.5v3.6M60.1 419.8v-2M60.1 238.5v2M66.8 419.8v-2M66.8 238.5v2M73.5 419.8v-2M73.5 238.5v2M80.2 419.8v-2M80.2 238.5v2M86.8 419.8v-3.6M86.8 238.5v3.6M93.5 419.8v-2M93.5 238.5v2M100.2 419.8v-2M100.2 238.5v2M106.9 419.8v-2M106.9 238.5v2M113.6 419.8v-2M113.6 238.5v2M120.2 419.8v-3.6M120.2 238.5v3.6M126.9 419.8v-2M126.9 238.5v2M133.6 419.8v-2M133.6 238.5v2M140.3 419.8v-2M140.3 238.5v2M146.9 419.8v-2M146.9 238.5v2M153.6 419.8v-3.6M153.6 238.5v3.6M160.3 419.8v-2M160.3 238.5v2M167 419.8v-2M167 238.5v2M173.7 419.8v-2M173.7 238.5v2M180.3 419.8v-2M180.3 238.5v2M187 419.8v-3.6M187 238.5v3.6M193.7 419.8v-2M193.7 238.5v2M200.4 419.8v-2M200.4 238.5v2M207.1 419.8v-2M207.1 238.5v2M213.7 419.8v-2M213.7 238.5v2M220.4 419.8v-3.6M220.4 238.5v3.6M227.1 419.8v-2M227.1 238.5v2M233.8 419.8v-2M233.8 238.5v2M240.4 419.8v-2M240.4 238.5v2M247.1 419.8v-2M247.1 238.5v2M253.8 419.8v-3.6M253.8 238.5v3.6M28.4 415h3.6M253.8 415h-3.6M28.4 409.8h2M253.8 409.8h-2M28.4 404.6h2M253.8 404.6h-2M28.4 399.4h2M253.8 399.4h-2M28.4 394.2h2M253.8 394.2h-2M28.4 389h3.6M253.8 389h-3.6M28.4 383.8h2M253.8 383.8h-2M28.4 378.6h2M253.8 378.6h-2M28.4 373.4h2M253.8 373.4h-2M28.4 368.2h2M253.8 368.2h-2M28.4 363h3.6M253.8 363h-3.6M28.4 357.8h2M253.8 357.8h-2M28.4 352.7h2M253.8 352.7h-2M28.4 347.5h2M253.8 347.5h-2M28.4 342.3h2M253.8 342.3h-2M28.4 337.1h3.6M253.8 337.1h-3.6M28.4 331.9h2M253.8 331.9h-2M28.4 326.7h2M253.8 326.7h-2M28.4 321.5h2M253.8 321.5h-2M28.4 316.3h2M253.8 316.3h-2M28.4 311.1h3.6M253.8 311.1h-3.6M28.4 305.9h2M253.8 305.9h-2M28.4 300.7h2M253.8 300.7h-2M28.4 295.5h2M253.8 295.5h-2M28.4 290.4h2M253.8 290.4h-2M28.4 285.2h3.6M253.8 285.2h-3.6M28.4 280h2M253.8 280h-2M28.4 274.8h2M253.8 274.8h-2M28.4 269.6h2M253.8 269.6h-2M28.4 264.4h2M253.8 264.4h-2M28.4 259.2h3.6M253.8 259.2h-3.6M28.4 254h2M253.8 254h-2M28.4 248.8h2M253.8 248.8h-2M28.4 243.6h2M253.8 243.6h-2" stroke="#222" stroke-width="0.9" fill="none"/>
<text x="53.4" y="431.4" text-anchor="middle" class="t">20</text>
<text x="86.8" y="431.4" text-anchor="middle" class="t">40</text>
<text x="120.2" y="431.4" text-anchor="middle" class="t">60</text>
<text x="153.6" y="431.4" text-anchor="middle" class="t">80</text>
<text x="187" y="431.4" text-anchor="middle" class="t">100</text>
<text x="220.4" y="431.4" text-anchor="middle" class="t">120</text>
<text x="25.2" y="392.5" text-anchor="end" class="t">0</text>
<text x="25.2" y="366.5" text-anchor="end" class="t">2</text>
<text x="25.2" y="340.6" text-anchor="end" class="t">4</text>
<text x="25.2" y="314.6" text-anchor="end" class="t">6</text>
<text x="25.2" y="288.7" text-anchor="end" class="t">8</text>
<text x="25.2" y="262.7" text-anchor="end" class="t">10</text>
<text transform="translate(12.7 330) rotate(-90)" text-anchor="middle" class="t">Intensity / 10<tspan class="sup" dy="-3.5">3</tspan><tspan dy="3.5"> counts</tspan></text>
<text x="140.8" y="449.8" text-anchor="middle" class="xl">2θ / °</text>
<text x="136.9" y="468" text-anchor="middle" class="cap">(c)</text>
<text x="165.5" y="251.9" class="a"><tspan class="sup" dy="-3.5">nat</tspan><tspan dy="3.5">MgO  (</tspan><tspan class="i">Fm</tspan><tspan class="i ol" id="olc">3</tspan><tspan class="i">m</tspan>)</text>
<path d="M214.4 243.7H217.9" stroke="#555" stroke-width="0.8"/>
<text x="165.5" y="265.3" class="a">ILL, D4, λ = 49.7 pm</text>
<text x="165.5" y="276.7" class="a a3"><tspan class="i">FullProf</tspan>, <tspan class="i">R</tspan><tspan class="i sub" dy="3.2">wp</tspan><tspan dy="-3.2"> = 3.16%</tspan></text>
<path d="M293.5 384.5L311.1 384.2L311.8 384.1L312.4 383.6L313.4 384L315 383.5L315.6 382.3L315.9 377.5L316.1 364.3L316.7 270.8L317.3 363.5L317.7 381.6L318 382.7L318.5 383.4L319.3 383.8L320.8 384L327 383.6L328.2 383L328.8 382L329.2 377.2L329.4 362.9L330.2 252.8L331 370.7L331.3 380.8L331.6 382.3L332.3 383.1L334 383.6L337.2 383.5L339 382.9L339.4 381.7L339.8 371.6L340.6 325.6L341.4 372.9L342 382.3L342.2 382.8L342.7 383.1L344.6 383.4L347.5 383.2L348 382.9L348.2 382.4L348.7 377.2L349.6 354.8L350.4 376.9L350.9 382.1L351.5 383L353.6 383.1L355.1 382.6L355.9 381.6L356.3 377.7L356.6 368.1L357.6 299.9L358.7 373L359.1 380.7L359.4 382L360 382.6L361.5 382.8L362.8 382.4L363.3 381.5L363.5 379.4L364 369L364.9 323.7L366.1 376L366.6 381.5L367 382.4L367.6 382.8L369 383.1L373.6 383.2L375.8 383.1L376.5 382.6L377.2 379.5L378.3 365.5L379.9 381.7L380.2 382.5L380.7 382.8L381.9 382.7L382.5 382.2L382.9 380.2L383.3 376.1L384.6 348.7L384.9 352.1L385.9 378L386.4 381.6L386.8 382.3L387.3 382.6L388 382.6L388.4 382.3L389 380.3L390.2 363L390.6 360.8L390.9 363.4L391.9 378.7L392.3 381.3L392.8 382.5L393.3 382.7L394 382.5L394.7 380.9L396 366.5L396.4 364.7L396.7 366.8L397.8 379.3L398.1 381.4L398.6 382.6L399.5 383L400.3 382.5L401.6 378.3L402 377.7L402.4 378.3L403.8 382.6L404.6 383.1L405.3 382.6L406 380.2L407.1 371L407.6 369.3L408 370.9L409.3 380.9L409.8 382.5L410.1 382.7L410.4 382.6L410.9 381.4L411.3 378.7L412.6 362.2L413 359.4L413.5 362L414.8 379.5L415.4 382L415.7 382.6L416.1 382.8L421.3 382.7L422 382.3L423.7 380.6L424.2 380.8L425.5 382.2L425.9 382.3L426.3 382L427.1 379.4L428.5 369.3L429 367.4L429.6 369.2L430.9 379.2L431.3 380.7L431.7 381.3L432 381L432.4 380.1L433.7 373.8L434.3 372.6L434.8 373.7L436.2 380.1L436.6 381L437 381.4L437.6 380.8L439 377.3L439.5 376.6L440.1 377.1L441.3 380.4L442 381.4L442.4 381.4L442.8 381L444.2 377.9L444.8 377.2L445.4 377.8L446.7 380.5L447.1 380.8L447.4 380.7L448.2 379.3L449.6 374L450.1 373.2L450.7 374.1L452.1 379.1L452.8 380.5L453.1 380.7L453.5 380.5L454.9 378.5L455.6 378.2L456.2 378.7L458 381.4L458.7 381.9L459.5 382.1L461.9 382.1L463.2 381.8L464.1 381.1L465.7 379.3L466.3 378.9L467 379.1L468.4 380.3L469 380.6L469.8 380.4L471.3 378.8L471.9 378.4L472.6 378.5L473.9 379.5L474.5 379.5L475.4 378.5L477.1 374.8L477.8 374.2L478.5 374.8L480.1 378.3L480.9 379.4L481.6 379.5L483.2 378.8L484 378.8L486.8 381L488.3 381.6L490.3 381.5L491.9 380.9L493 379.7L495.2 376.6L496.3 376L497.1 376.4L499.6 378.8L500.4 378.9L502.4 378.2L503.4 378.2L504.3 378.7L506.7 380.6L508.3 381.3L511.6 381.4L517.4 380.8" stroke="#222" stroke-width="1.3" fill="none" stroke-linejoin="round"/>
<path d="M293.5 384.5h0M293.7 384.5h0M293.9 384.5h0M294.1 384.5h0M294.3 384.5h0M294.5 384.5h0M294.7 384.5h0M295 384.5h0M295.2 384.5h0M295.4 384.5h0M295.6 384.5h0M295.8 384.5h0M296 384.5h0M296.2 384.5h0M296.4 384.5h0M296.6 384.5h0M296.8 384.5h0M297 384.5h0M297.2 384.5h0M297.4 384.5h0M297.6 384.5h0M297.9 384.5h0M298.1 384.4h0M298.3 384.4h0M298.5 384.4h0M298.7 384.4h0M298.9 384.4h0M299.1 384.4h0M299.3 384.4h0M299.5 384.4h0M299.7 384.4h0M299.9 384.4h0M300.1 384.4h0M300.3 384.4h0M300.6 384.4h0M300.8 384.4h0M301 384.4h0M301.2 384.4h0M301.4 384.4h0M301.6 384.4h0M301.8 384.4h0M302 384.4h0M302.2 384.4h0M302.4 384.4h0M302.6 384.4h0M302.8 384.4h0M303 384.4h0M303.3 384.4h0M303.5 384.4h0M303.7 384.4h0M303.9 384.4h0M304.1 384.4h0M304.3 384.4h0M304.5 384.4h0M304.7 384.3h0M304.9 384.3h0M305.1 384.3h0M305.3 384.3h0M305.5 384.3h0M305.7 384.3h0M305.9 384.3h0M306.2 384.3h0M306.4 384.3h0M306.6 384.3h0M306.8 384.3h0M307 384.3h0M307.2 384.3h0M307.4 384.3h0M307.6 384.3h0M307.8 384.3h0M308 384.3h0M308.2 384.3h0M308.4 384.3h0M308.6 384.3h0M308.9 384.3h0M309.1 384.3h0M309.3 384.3h0M309.5 384.3h0M309.7 384.2h0M309.9 384.2h0M310.1 384.2h0M310.3 384.2h0M310.5 384.2h0M310.7 384.2h0M310.9 384.2h0M311.1 384.2h0M311.3 384.2h0M311.6 384.2h0M311.8 384.1h0M312 384h0M312.2 383.8h0M312.4 383.6h0M312.6 383.7h0M312.8 383.9h0M313 384h0M313.2 384h0M313.4 384h0M313.6 384h0M313.8 384h0M314 383.9h0M314.2 383.9h0M314.5 383.8h0M314.7 383.7h0M314.9 383.6h0M315.1 383.4h0M315.3 383.2h0M315.5 382.8h0M315.7 381.8h0M315.9 378.1h0M316.1 365.1h0M316.3 334.1h0M316.5 291.4h0M316.7 270.9h0M316.9 296.5h0M317.2 339.1h0M317.4 367.6h0M317.6 378.9h0M317.8 382h0M318 382.8h0M318.2 383.1h0M318.4 383.4h0M318.6 383.5h0M318.8 383.6h0M319 383.7h0M319.2 383.8h0M319.4 383.8h0M319.6 383.9h0M319.9 383.9h0M320.1 383.9h0M320.3 383.9h0M320.5 383.9h0M320.7 383.9h0M320.9 384h0M321.1 384h0M321.3 384h0M321.5 384h0M321.7 384h0M321.9 384h0M322.1 384h0M322.3 384h0M322.6 384h0M322.8 384h0M323 384h0M323.2 384h0M323.4 383.9h0M323.6 383.9h0M323.8 383.9h0M324 383.9h0M324.2 383.9h0M324.4 383.9h0M324.6 383.9h0M324.8 383.9h0M325 383.9h0M325.2 383.9h0M325.5 383.8h0M325.7 383.8h0M325.9 383.8h0M326.1 383.8h0M326.3 383.7h0M326.5 383.7h0M326.7 383.7h0M326.9 383.6h0M327.1 383.6h0M327.3 383.5h0M327.5 383.4h0M327.7 383.3h0M327.9 383.2h0M328.2 383.1h0M328.4 382.8h0M328.6 382.5h0M328.8 382h0M329 380.7h0M329.2 376.7h0M329.4 365.1h0M329.6 339.3h0M329.8 299.4h0M330 262.1h0M330.2 255h0M330.4 284.7h0M330.6 326.5h0M330.9 357.9h0M331.1 373.8h0M331.3 379.8h0M331.5 381.7h0M331.7 382.3h0M331.9 382.7h0M332.1 382.9h0M332.3 383.1h0M332.5 383.2h0M332.7 383.3h0M332.9 383.4h0M333.1 383.4h0M333.3 383.5h0M333.5 383.5h0M333.8 383.5h0M334 383.5h0M334.2 383.6h0M334.4 383.6h0M334.6 383.6h0M334.8 383.6h0M335 383.6h0M335.2 383.6h0M335.4 383.6h0M335.6 383.6h0M335.8 383.6h0M336 383.6h0M336.2 383.6h0M336.5 383.6h0M336.7 383.6h0M336.9 383.6h0M337.1 383.5h0M337.3 383.5h0M337.5 383.4h0M337.7 383.3h0M337.9 383.2h0M338.1 383.1h0M338.3 383h0M338.5 383h0M338.7 383h0M338.9 382.9h0M339.1 382.6h0M339.4 381.9h0M339.6 379.8h0M339.8 374.6h0M340 364.4h0M340.2 349.2h0M340.4 333.5h0M340.6 325.6h0M340.8 331.3h0M341 346.3h0M341.2 362h0M341.4 373.2h0M341.6 379.1h0M341.8 381.6h0M342.1 382.5h0M342.3 382.9h0M342.5 383h0M342.7 383.1h0M342.9 383.2h0M343.1 383.3h0M343.3 383.3h0M343.5 383.3h0M343.7 383.4h0M343.9 383.4h0M344.1 383.4h0M344.3 383.4h0M344.5 383.4h0M344.8 383.4h0M345 383.4h0M345.2 383.4h0M345.4 383.4h0M345.6 383.4h0M345.8 383.4h0M346 383.4h0M346.2 383.4h0M346.4 383.4h0M346.6 383.4h0M346.8 383.3h0M347 383.3h0M347.2 383.3h0M347.4 383.2h0M347.7 383.1h0M347.9 383h0M348.1 382.8h0M348.3 382.2h0M348.5 380.8h0M348.7 377.8h0M348.9 372.7h0M349.1 365.8h0M349.3 358.9h0M349.5 355h0M349.7 356.5h0M349.9 362.4h0M350.1 369.7h0M350.4 375.7h0M350.6 379.6h0M350.8 381.6h0M351 382.5h0M351.2 382.8h0M351.4 383h0M351.6 383h0M351.8 383.1h0M352 383.1h0M352.2 383.1h0M352.4 383.1h0M352.6 383.1h0M352.8 383.1h0M353.1 383.1h0M353.3 383.1h0M353.5 383.1h0M353.7 383.1h0M353.9 383.1h0M354.1 383h0M354.3 383h0M354.5 382.9h0M354.7 382.8h0M354.9 382.7h0M355.1 382.6h0M355.3 382.4h0M355.5 382.2h0M355.8 381.9h0M356 381.2h0M356.2 379.6h0M356.4 376.1h0M356.6 368.9h0M356.8 356.7h0M357 339.4h0M357.2 320h0M357.4 304.6h0M357.6 300.1h0M357.8 308.9h0M358 326.5h0M358.2 345.7h0M358.4 361.4h0M358.7 371.8h0M358.9 377.6h0M359.1 380.3h0M359.3 381.5h0M359.5 382.1h0M359.7 382.3h0M359.9 382.5h0M360.1 382.6h0M360.3 382.7h0M360.5 382.7h0M360.7 382.8h0M360.9 382.8h0M361.1 382.8h0M361.4 382.8h0M361.6 382.8h0M361.8 382.8h0M362 382.8h0M362.2 382.7h0M362.4 382.7h0M362.6 382.6h0M362.8 382.5h0M363 382.2h0M363.2 381.7h0M363.4 380.5h0M363.6 378h0M363.8 373.3h0M364.1 365.5h0M364.3 354.6h0M364.5 341.9h0M364.7 330.3h0M364.9 324h0M365.1 325.8h0M365.3 334.8h0M365.5 347.3h0M365.7 359.6h0M365.9 369.2h0M366.1 375.6h0M366.3 379.3h0M366.5 381.1h0M366.7 382h0M367 382.4h0M367.2 382.6h0M367.4 382.7h0M367.6 382.8h0M367.8 382.9h0M368 383h0M368.2 383h0M368.4 383h0M368.6 383.1h0M368.8 383.1h0M369 383.1h0M369.2 383.1h0M369.4 383.1h0M369.7 383.1h0M369.9 383.1h0M370.1 383.1h0M370.3 383.1h0M370.5 383.2h0M370.7 383.2h0M370.9 383.2h0M371.1 383.2h0M371.3 383.2h0M371.5 383.2h0M371.7 383.3h0M371.9 383.3h0M372.1 383.3h0M372.4 383.3h0M372.6 383.3h0M372.8 383.3h0M373 383.3h0M373.2 383.3h0M373.4 383.2h0M373.6 383.2h0M373.8 383.2h0M374 383.2h0M374.2 383.2h0M374.4 383.2h0M374.6 383.2h0M374.8 383.2h0M375 383.2h0M375.3 383.2h0M375.5 383.1h0M375.7 383.1h0M375.9 383.1h0M376.1 383h0M376.3 382.9h0M376.5 382.6h0M376.7 382.1h0M376.9 381.3h0M377.1 379.9h0M377.3 377.7h0M377.5 374.8h0M377.7 371.6h0M378 368.4h0M378.2 366.1h0M378.4 365.5h0M378.6 366.8h0M378.8 369.4h0M379 372.7h0M379.2 375.9h0M379.4 378.5h0M379.6 380.3h0M379.8 381.5h0M380 382.2h0M380.2 382.6h0M380.4 382.8h0M380.6 382.8h0M380.9 382.9h0M381.1 382.9h0M381.3 382.9h0M381.5 382.8h0M381.7 382.8h0M381.9 382.7h0M382.1 382.6h0M382.3 382.4h0M382.5 382.1h0M382.7 381.4h0M382.9 380.2h0M383.1 378.2h0M383.3 375.2h0M383.6 370.8h0M383.8 365.3h0M384 359.3h0M384.2 353.7h0M384.4 349.8h0M384.6 348.7h0M384.8 350.9h0M385 355.5h0M385.2 361.4h0M385.4 367.4h0M385.6 372.5h0M385.8 376.4h0M386 379.1h0M386.3 380.7h0M386.5 381.7h0M386.7 382.2h0M386.9 382.4h0M387.1 382.6h0M387.3 382.6h0M387.5 382.7h0M387.7 382.7h0M387.9 382.7h0M388.1 382.6h0M388.3 382.4h0M388.5 382.1h0M388.7 381.6h0M388.9 380.6h0M389.2 379.1h0M389.4 376.8h0M389.6 373.9h0M389.8 370.4h0M390 366.7h0M390.2 363.4h0M390.4 361.3h0M390.6 360.9h0M390.8 362.3h0M391 365.1h0M391.2 368.7h0M391.4 372.4h0M391.6 375.6h0M391.9 378.2h0M392.1 380h0M392.3 381.2h0M392.5 381.9h0M392.7 382.3h0M392.9 382.6h0M393.1 382.7h0M393.3 382.7h0M393.5 382.7h0M393.7 382.7h0M393.9 382.6h0M394.1 382.4h0M394.3 382.1h0M394.6 381.5h0M394.8 380.6h0M395 379.2h0M395.2 377.2h0M395.4 374.8h0M395.6 372h0M395.8 369.1h0M396 366.6h0M396.2 365h0M396.4 364.7h0M396.6 365.8h0M396.8 367.9h0M397 370.7h0M397.2 373.5h0M397.5 376.2h0M397.7 378.4h0M397.9 380.1h0M398.1 381.2h0M398.3 382h0M398.5 382.4h0M398.7 382.7h0M398.9 382.8h0M399.1 382.9h0M399.3 383h0M399.5 383h0M399.7 382.9h0M399.9 382.9h0M400.2 382.7h0M400.4 382.4h0M400.6 382h0M400.8 381.4h0M401 380.7h0M401.2 379.9h0M401.4 379.1h0M401.6 378.4h0M401.8 377.9h0M402 377.7h0M402.2 377.9h0M402.4 378.4h0M402.6 379.1h0M402.9 379.9h0M403.1 380.7h0M403.3 381.4h0M403.5 382h0M403.7 382.4h0M403.9 382.7h0M404.1 382.9h0M404.3 383h0M404.5 383.1h0M404.7 383.1h0M404.9 383h0M405.1 382.9h0M405.3 382.6h0M405.6 382.2h0M405.8 381.6h0M406 380.6h0M406.2 379.4h0M406.4 377.7h0M406.6 375.9h0M406.8 373.9h0M407 372h0M407.2 370.4h0M407.4 369.5h0M407.6 369.3h0M407.8 369.9h0M408 371.1h0M408.2 372.9h0M408.5 374.8h0M408.7 376.8h0M408.9 378.6h0M409.1 380h0M409.3 381.1h0M409.5 381.9h0M409.7 382.4h0M409.9 382.6h0M410.1 382.7h0M410.3 382.7h0M410.5 382.4h0M410.7 382h0M410.9 381.3h0M411.2 380.2h0M411.4 378.6h0M411.6 376.4h0M411.8 373.8h0M412 370.7h0M412.2 367.5h0M412.4 364.4h0M412.6 361.8h0M412.8 360.1h0M413 359.4h0M413.2 360h0M413.4 361.7h0M413.6 364.2h0M413.9 367.3h0M414.1 370.5h0M414.3 373.6h0M414.5 376.3h0M414.7 378.4h0M414.9 380h0M415.1 381.1h0M415.3 381.9h0M415.5 382.4h0M415.7 382.6h0M415.9 382.8h0M416.1 382.8h0M416.3 382.9h0M416.5 382.9h0M416.8 382.9h0M417 382.9h0M417.2 382.9h0M417.4 382.9h0M417.6 382.9h0M417.8 382.9h0M418 382.9h0M418.2 382.9h0M418.4 382.9h0M418.6 382.9h0M418.8 382.9h0M419 382.9h0M419.2 382.9h0M419.5 382.9h0M419.7 382.9h0M419.9 382.8h0M420.1 382.8h0M420.3 382.8h0M420.5 382.8h0M420.7 382.8h0M420.9 382.8h0M421.1 382.7h0M421.3 382.7h0M421.5 382.6h0M421.7 382.5h0M421.9 382.3h0M422.1 382.2h0M422.4 381.9h0M422.6 381.7h0M422.8 381.4h0M423 381.1h0M423.2 380.9h0M423.4 380.7h0M423.6 380.6h0M423.8 380.6h0M424 380.7h0M424.2 380.8h0M424.4 381h0M424.6 381.3h0M424.8 381.5h0M425.1 381.8h0M425.3 382h0M425.5 382.2h0M425.7 382.3h0M425.9 382.3h0M426.1 382.2h0M426.3 382h0M426.5 381.7h0M426.7 381.2h0M426.9 380.5h0M427.1 379.5h0M427.3 378.3h0M427.5 376.8h0M427.8 375.2h0M428 373.4h0M428.2 371.6h0M428.4 370h0M428.6 368.6h0M428.8 367.8h0M429 367.4h0M429.2 367.7h0M429.4 368.4h0M429.6 369.7h0M429.8 371.2h0M430 373h0M430.2 374.8h0M430.4 376.5h0M430.7 377.9h0M430.9 379.2h0M431.1 380.1h0M431.3 380.7h0M431.5 381.1h0M431.7 381.3h0M431.9 381.2h0M432.1 380.9h0M432.3 380.3h0M432.5 379.6h0M432.7 378.7h0M432.9 377.7h0M433.1 376.6h0M433.4 375.5h0M433.6 374.5h0M433.8 373.6h0M434 372.9h0M434.2 372.6h0M434.4 372.6h0M434.6 372.9h0M434.8 373.6h0M435 374.4h0M435.2 375.5h0M435.4 376.6h0M435.6 377.7h0M435.8 378.7h0M436.1 379.6h0M436.3 380.3h0M436.5 380.8h0M436.7 381.2h0M436.9 381.4h0M437.1 381.4h0M437.3 381.3h0M437.5 381h0M437.7 380.6h0M437.9 380.2h0M438.1 379.6h0M438.3 379h0M438.5 378.4h0M438.8 377.8h0M439 377.3h0M439.2 376.9h0M439.4 376.7h0M439.6 376.6h0M439.8 376.7h0M440 377h0M440.2 377.4h0M440.4 378h0M440.6 378.5h0M440.8 379.2h0M441 379.7h0M441.2 380.3h0M441.4 380.7h0M441.7 381.1h0M441.9 381.3h0M442.1 381.4h0M442.3 381.4h0M442.5 381.3h0M442.7 381.1h0M442.9 380.8h0M443.1 380.4h0M443.3 379.9h0M443.5 379.4h0M443.7 378.9h0M443.9 378.4h0M444.1 378h0M444.4 377.6h0M444.6 377.4h0M444.8 377.3h0M445 377.3h0M445.2 377.4h0M445.4 377.7h0M445.6 378.1h0M445.8 378.6h0M446 379h0M446.2 379.5h0M446.4 380h0M446.6 380.3h0M446.8 380.6h0M447 380.8h0M447.3 380.8h0M447.5 380.7h0M447.7 380.4h0M447.9 380.1h0M448.1 379.5h0M448.3 378.9h0M448.5 378.1h0M448.7 377.3h0M448.9 376.4h0M449.1 375.6h0M449.3 374.8h0M449.5 374.1h0M449.7 373.6h0M450 373.3h0M450.2 373.2h0M450.4 373.4h0M450.6 373.7h0M450.8 374.3h0M451 375h0M451.2 375.7h0M451.4 376.6h0M451.6 377.4h0M451.8 378.2h0M452 378.9h0M452.2 379.6h0M452.4 380h0M452.7 380.4h0M452.9 380.6h0M453.1 380.7h0M453.3 380.7h0M453.5 380.5h0M453.7 380.3h0M453.9 380.1h0M454.1 379.8h0M454.3 379.4h0M454.5 379.1h0M454.7 378.8h0M454.9 378.5h0M455.1 378.3h0M455.4 378.2h0M455.6 378.2h0M455.8 378.3h0M456 378.4h0M456.2 378.7h0M456.4 379h0M456.6 379.3h0M456.8 379.7h0M457 380h0M457.2 380.4h0M457.4 380.7h0M457.6 381h0M457.8 381.3h0M458 381.5h0M458.3 381.7h0M458.5 381.8h0M458.7 381.9h0M458.9 382h0M459.1 382h0M459.3 382.1h0M459.5 382.1h0M459.7 382.1h0M459.9 382.1h0M460.1 382.1h0M460.3 382.2h0M460.5 382.2h0M460.7 382.1h0M461 382.1h0M461.2 382.1h0M461.4 382.1h0M461.6 382.1h0M461.8 382.1h0M462 382.1h0M462.2 382.1h0M462.4 382h0M462.6 382h0M462.8 381.9h0M463 381.9h0M463.2 381.8h0M463.4 381.6h0M463.6 381.5h0M463.9 381.3h0M464.1 381.1h0M464.3 380.9h0M464.5 380.7h0M464.7 380.4h0M464.9 380.2h0M465.1 379.9h0M465.3 379.6h0M465.5 379.4h0M465.7 379.2h0M465.9 379.1h0M466.1 379h0M466.3 378.9h0M466.6 378.9h0M466.8 379h0M467 379.1h0M467.2 379.2h0M467.4 379.4h0M467.6 379.6h0M467.8 379.8h0M468 380h0M468.2 380.2h0M468.4 380.4h0M468.6 380.5h0M468.8 380.6h0M469 380.6h0M469.3 380.6h0M469.5 380.6h0M469.7 380.4h0M469.9 380.3h0M470.1 380.1h0M470.3 379.9h0M470.5 379.6h0M470.7 379.4h0M470.9 379.1h0M471.1 378.9h0M471.3 378.7h0M471.5 378.6h0M471.7 378.5h0M471.9 378.4h0M472.2 378.4h0M472.4 378.4h0M472.6 378.5h0M472.8 378.7h0M473 378.8h0M473.2 379h0M473.4 379.2h0M473.6 379.3h0M473.8 379.4h0M474 379.5h0M474.2 379.6h0M474.4 379.6h0M474.6 379.5h0M474.9 379.3h0M475.1 379.1h0M475.3 378.8h0M475.5 378.4h0M475.7 377.9h0M475.9 377.5h0M476.1 377h0M476.3 376.5h0M476.5 376h0M476.7 375.5h0M476.9 375.1h0M477.1 374.7h0M477.3 374.5h0M477.6 374.3h0M477.8 374.2h0M478 374.3h0M478.2 374.4h0M478.4 374.6h0M478.6 375h0M478.8 375.4h0M479 375.8h0M479.2 376.3h0M479.4 376.8h0M479.6 377.3h0M479.8 377.7h0M480 378.2h0M480.2 378.5h0M480.5 378.9h0M480.7 379.1h0M480.9 379.3h0M481.1 379.5h0M481.3 379.5h0M481.5 379.5h0M481.7 379.5h0M481.9 379.4h0M482.1 379.3h0M482.3 379.2h0M482.5 379.1h0M482.7 379h0M482.9 378.9h0M483.2 378.8h0M483.4 378.7h0M483.6 378.7h0M483.8 378.7h0M484 378.8h0M484.2 378.8h0M484.4 378.9h0M484.6 379.1h0M484.8 379.2h0M485 379.4h0M485.2 379.6h0M485.4 379.8h0M485.6 380h0M485.9 380.2h0M486.1 380.4h0M486.3 380.6h0M486.5 380.7h0M486.7 380.9h0M486.9 381h0M487.1 381.2h0M487.3 381.3h0M487.5 381.4h0M487.7 381.4h0M487.9 381.5h0M488.1 381.5h0M488.3 381.6h0M488.5 381.6h0M488.8 381.6h0M489 381.6h0M489.2 381.6h0M489.4 381.6h0M489.6 381.6h0M489.8 381.6h0M490 381.6h0M490.2 381.6h0M490.4 381.5h0M490.6 381.5h0M490.8 381.4h0M491 381.3h0M491.2 381.3h0M491.5 381.2h0M491.7 381h0M491.9 380.9h0M492.1 380.8h0M492.3 380.6h0M492.5 380.4h0M492.7 380.1h0M492.9 379.9h0M493.1 379.6h0M493.3 379.4h0M493.5 379h0M493.7 378.7h0M493.9 378.4h0M494.2 378.1h0M494.4 377.8h0M494.6 377.4h0M494.8 377.1h0M495 376.9h0M495.2 376.6h0M495.4 376.4h0M495.6 376.2h0M495.8 376.1h0M496 376h0M496.2 376h0M496.4 376h0M496.6 376.1h0M496.9 376.2h0M497.1 376.3h0M497.3 376.5h0M497.5 376.7h0M497.7 376.9h0M497.9 377.2h0M498.1 377.4h0M498.3 377.7h0M498.5 377.9h0M498.7 378.1h0M498.9 378.3h0M499.1 378.5h0M499.3 378.6h0M499.5 378.7h0M499.8 378.8h0M500 378.9h0M500.2 378.9h0M500.4 378.9h0M500.6 378.8h0M500.8 378.8h0M501 378.7h0M501.2 378.6h0M501.4 378.6h0M501.6 378.5h0M501.8 378.4h0M502 378.3h0M502.2 378.3h0M502.5 378.2h0M502.7 378.2h0M502.9 378.2h0M503.1 378.2h0M503.3 378.2h0M503.5 378.3h0M503.7 378.4h0M503.9 378.5h0M504.1 378.6h0M504.3 378.7h0M504.5 378.9h0M504.7 379.1h0M504.9 379.2h0M505.1 379.4h0M505.4 379.6h0M505.6 379.8h0M505.8 379.9h0M506 380.1h0M506.2 380.3h0M506.4 380.4h0M506.6 380.6h0M506.8 380.7h0M507 380.8h0M507.2 380.9h0M507.4 381h0M507.6 381.1h0M507.8 381.2h0M508.1 381.2h0M508.3 381.3h0M508.5 381.3h0M508.7 381.4h0M508.9 381.4h0M509.1 381.4h0M509.3 381.4h0M509.5 381.4h0M509.7 381.5h0M509.9 381.5h0M510.1 381.5h0M510.3 381.5h0M510.5 381.5h0M510.8 381.5h0M511 381.5h0M511.2 381.5h0M511.4 381.4h0M511.6 381.4h0M511.8 381.4h0M512 381.4h0M512.2 381.4h0M512.4 381.4h0M512.6 381.4h0M512.8 381.3h0M513 381.3h0M513.2 381.3h0M513.5 381.3h0M513.7 381.2h0M513.9 381.2h0M514.1 381.2h0M514.3 381.2h0M514.5 381.1h0M514.7 381.1h0M514.9 381.1h0M515.1 381h0M515.3 381h0M515.5 381h0M515.7 381h0M515.9 380.9h0M516.1 380.9h0M516.4 380.9h0M516.6 380.9h0M516.8 380.8h0M517 380.8h0M517.2 380.8h0M517.4 380.8h0M316.7 271.2h0M330.2 253.2h0M340.6 326h0M349.6 355.2h0M357.6 300.3h0M364.9 324.1h0M378.3 365.9h0M384.6 349.1h0M390.6 361.2h0M396.4 365.1h0" stroke="#6e000f" stroke-width="2.5" stroke-linecap="round" fill="none" opacity="0.88"/>
<path d="M312.4 396.9V403.1M316.7 396.9V403.1M330.2 396.9V403.1M338.2 396.9V403.1M340.6 396.9V403.1M349.6 396.9V403.1M355.6 396.9V403.1M357.6 396.9V403.1M364.9 396.9V403.1M370.1 396.9V403.1M378.3 396.9V403.1M383 396.9V403.1M384.6 396.9V403.1M390.6 396.9V403.1M394.9 396.9V403.1M396.4 396.9V403.1M402 396.9V403.1M406.2 396.9V403.1M407.6 396.9V403.1M413 396.9V403.1M417.1 396.9V403.1M423.7 396.9V403.1M427.7 396.9V403.1M429 396.9V403.1M434.3 396.9V403.1M438.2 396.9V403.1M439.6 396.9V403.1M444.8 396.9V403.1M448.8 396.9V403.1M450.1 396.9V403.1M455.5 396.9V403.1M459.6 396.9V403.1M466.4 396.9V403.1M470.6 396.9V403.1M472 396.9V403.1M477.8 396.9V403.1M482.2 396.9V403.1M483.7 396.9V403.1M494.6 396.9V403.1M496.2 396.9V403.1M502.9 396.9V403.1M508.2 396.9V403.1" stroke="#557a35" stroke-width="1" fill="none"/>
<path d="M293.5 410.5L316 410.5L316.6 408.1L317 411.9L317.6 410.5L329.4 410.5L330 410L330.4 411L331 410.5L339.9 410.5L340.5 410L340.9 411L341.5 410.5L349.4 410.5L350 410L350.4 411L351 410.5L356.8 410.5L357.4 408.4L357.8 411.9L358.4 410.5L364 410.5L364.6 407.6L365 411.9L365.6 410.5L377.7 410.5L378.3 410.1L378.7 410.9L379.3 410.5L384 410.5L384.6 410L385 411L385.6 410.5L389.8 410.5L390.4 410.1L390.8 410.9L391.4 410.5L517.2 410.5" stroke="#3030b4" stroke-width="1.05" fill="none" stroke-linejoin="round"/>
<path d="M316.8 406.2V412.7M330.2 410.1V410.9M340.7 410.1V410.9M350.2 410.1V410.9M357.6 407V412.7M364.8 405.4V412.7M378.5 410.3V410.7M384.8 410.1V410.9M390.6 410.3V410.7" stroke="#2020d8" stroke-width="1.5" stroke-linecap="round" fill="none"/>
<rect x="293.5" y="238.5" width="224.9" height="181.4" fill="none" stroke="#222" stroke-width="1.1"/>
<path d="M298.5 419.9v-2M298.5 238.5v2M305.2 419.9v-2M305.2 238.5v2M311.8 419.9v-2M311.8 238.5v2M318.5 419.9v-3.6M318.5 238.5v3.6M325.2 419.9v-2M325.2 238.5v2M331.8 419.9v-2M331.8 238.5v2M338.5 419.9v-2M338.5 238.5v2M345.1 419.9v-2M345.1 238.5v2M351.8 419.9v-3.6M351.8 238.5v3.6M358.5 419.9v-2M358.5 238.5v2M365.1 419.9v-2M365.1 238.5v2M371.8 419.9v-2M371.8 238.5v2M378.5 419.9v-2M378.5 238.5v2M385.1 419.9v-3.6M385.1 238.5v3.6M391.8 419.9v-2M391.8 238.5v2M398.5 419.9v-2M398.5 238.5v2M405.1 419.9v-2M405.1 238.5v2M411.8 419.9v-2M411.8 238.5v2M418.4 419.9v-3.6M418.4 238.5v3.6M425.1 419.9v-2M425.1 238.5v2M431.8 419.9v-2M431.8 238.5v2M438.4 419.9v-2M438.4 238.5v2M445.1 419.9v-2M445.1 238.5v2M451.8 419.9v-3.6M451.8 238.5v3.6M458.4 419.9v-2M458.4 238.5v2M465.1 419.9v-2M465.1 238.5v2M471.8 419.9v-2M471.8 238.5v2M478.4 419.9v-2M478.4 238.5v2M485.1 419.9v-3.6M485.1 238.5v3.6M491.7 419.9v-2M491.7 238.5v2M498.4 419.9v-2M498.4 238.5v2M505.1 419.9v-2M505.1 238.5v2M511.7 419.9v-2M511.7 238.5v2M518.4 419.9v-3.6M518.4 238.5v3.6M293.5 411.8h2M518.4 411.8h-2M293.5 403.5h2M518.4 403.5h-2M293.5 395.3h2M518.4 395.3h-2M293.5 387h3.6M518.4 387h-3.6M293.5 378.7h2M518.4 378.7h-2M293.5 370.5h2M518.4 370.5h-2M293.5 362.2h2M518.4 362.2h-2M293.5 354h2M518.4 354h-2M293.5 345.7h3.6M518.4 345.7h-3.6M293.5 337.4h2M518.4 337.4h-2M293.5 329.2h2M518.4 329.2h-2M293.5 320.9h2M518.4 320.9h-2M293.5 312.7h2M518.4 312.7h-2M293.5 304.4h3.6M518.4 304.4h-3.6M293.5 296.1h2M518.4 296.1h-2M293.5 287.9h2M518.4 287.9h-2M293.5 279.6h2M518.4 279.6h-2M293.5 271.4h2M518.4 271.4h-2M293.5 263.1h3.6M518.4 263.1h-3.6M293.5 254.8h2M518.4 254.8h-2M293.5 246.6h2M518.4 246.6h-2" stroke="#222" stroke-width="0.9" fill="none"/>
<text x="318.5" y="431.6" text-anchor="middle" class="t">20</text>
<text x="351.8" y="431.6" text-anchor="middle" class="t">40</text>
<text x="385.1" y="431.6" text-anchor="middle" class="t">60</text>
<text x="418.4" y="431.6" text-anchor="middle" class="t">80</text>
<text x="451.8" y="431.6" text-anchor="middle" class="t">100</text>
<text x="485.1" y="431.6" text-anchor="middle" class="t">120</text>
<text x="290.3" y="390.5" text-anchor="end" class="t">0</text>
<text x="290.3" y="349.2" text-anchor="end" class="t">5</text>
<text x="290.3" y="307.9" text-anchor="end" class="t">10</text>
<text x="290.3" y="266.6" text-anchor="end" class="t">15</text>
<text transform="translate(276.5 330) rotate(-90)" text-anchor="middle" class="t">Intensity / 10<tspan class="sup" dy="-3.5">3</tspan><tspan dy="3.5"> counts</tspan></text>
<text x="405.9" y="449.8" text-anchor="middle" class="xl">2θ / °</text>
<text x="401.9" y="468" text-anchor="middle" class="cap">(d)</text>
<text x="430" y="251.9" class="a"><tspan class="sup" dy="-3.5">nat</tspan><tspan dy="3.5">MgO  (</tspan><tspan class="i">Fm</tspan><tspan class="i ol" id="old">3</tspan><tspan class="i">m</tspan>)</text>
<path d="M478.9 243.7H482.4" stroke="#555" stroke-width="0.8"/>
<text x="430" y="265.3" class="a">ILL, D4, λ = 69.8 pm</text>
<text x="430" y="276.7" class="a a3"><tspan class="i">FullProf</tspan>, <tspan class="i">R</tspan><tspan class="i sub" dy="3.2">wp</tspan><tspan dy="-3.2"> = 4.94%</tspan></text>
</svg>
</body></html>
